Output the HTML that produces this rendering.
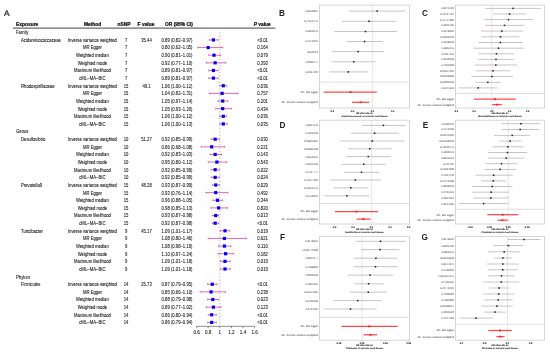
<!DOCTYPE html>
<html><head><meta charset="utf-8"><title>MR forest plots</title>
<style>
html,body{margin:0;padding:0;background:#fff;}
body{width:550px;height:353px;overflow:hidden;}
svg{display:block;font-family:"Liberation Sans", Arial, Helvetica, sans-serif;}
</style></head>
<body>
<svg width="550" height="353" viewBox="0 0 550 353">
<rect width="550" height="353" fill="#fff"/>
<text x="4.00" y="15.90" font-size="8.4" text-anchor="start" font-weight="normal" fill="#111" style="text-rendering:geometricPrecision" stroke="#111" stroke-width="0.2">A</text>
<text x="16.00" y="25.80" font-size="4.9" text-anchor="start" font-weight="bold" fill="#111" stroke="#111" stroke-width="0.22">Exposure</text>
<text x="92.60" y="25.80" font-size="4.9" text-anchor="middle" font-weight="bold" fill="#111" stroke="#111" stroke-width="0.22">Method</text>
<text x="124.00" y="25.80" font-size="4.9" text-anchor="middle" font-weight="bold" fill="#111" stroke="#111" stroke-width="0.22">nSNP</text>
<text x="146.00" y="25.80" font-size="4.9" text-anchor="middle" font-weight="bold" fill="#111" stroke="#111" stroke-width="0.22">F value</text>
<text x="179.00" y="25.80" font-size="4.9" text-anchor="middle" font-weight="bold" fill="#111" stroke="#111" stroke-width="0.22">OR (95% CI)</text>
<text x="262.2" y="25.8" font-size="4.9" text-anchor="middle" font-weight="bold" fill="#111" stroke="#111" stroke-width="0.22"><tspan font-style="italic">P</tspan> value</text>
<line x1="13.00" y1="28.10" x2="275.50" y2="28.10" stroke="#6a6a6a" stroke-width="1.1"/>
<line x1="219.80" y1="32.20" x2="219.80" y2="326.00" stroke="#999" stroke-width="0.7" stroke-dasharray="1.3,2.0"/>
<text transform="translate(16.00,34.20) scale(0.92,1)" font-size="4.6" text-anchor="start" font-weight="normal" fill="#111" stroke="#111" stroke-width="0.07">Family</text>
<text transform="translate(21.00,41.84) scale(0.92,1)" font-size="4.6" text-anchor="start" font-weight="normal" fill="#111" stroke="#111" stroke-width="0.07">Acidaminococcaceae</text>
<text transform="translate(146.50,41.84) scale(0.92,1)" font-size="4.6" text-anchor="middle" font-weight="normal" fill="#111" stroke="#111" stroke-width="0.07">35.44</text>
<text transform="translate(92.40,41.84) scale(0.92,1)" font-size="4.6" text-anchor="middle" font-weight="normal" fill="#111" stroke="#111" stroke-width="0.07">Inverse variance weighted</text>
<text transform="translate(126.10,41.84) scale(0.92,1)" font-size="4.6" text-anchor="middle" font-weight="normal" fill="#111" stroke="#111" stroke-width="0.07">7</text>
<text transform="translate(177.00,41.84) scale(0.92,1)" font-size="4.6" text-anchor="middle" font-weight="normal" fill="#111" stroke="#111" stroke-width="0.07">0.89 (0.82–0.97)</text>
<text transform="translate(262.60,41.84) scale(0.92,1)" font-size="4.6" text-anchor="middle" font-weight="normal" fill="#111" stroke="#111" stroke-width="0.07">&lt;0.01</text>
<line x1="209.36" y1="39.93" x2="218.06" y2="39.93" stroke="#e34ba6" stroke-width="0.85"/>
<line x1="209.36" y1="39.03" x2="209.36" y2="40.83" stroke="#c0307f" stroke-width="0.6"/>
<line x1="218.06" y1="39.03" x2="218.06" y2="40.83" stroke="#c0307f" stroke-width="0.6"/>
<rect x="211.82" y="38.33" width="3.20" height="3.20" fill="#0000ff"/>
<text transform="translate(92.40,49.47) scale(0.92,1)" font-size="4.6" text-anchor="middle" font-weight="normal" fill="#111" stroke="#111" stroke-width="0.07">MR Egger</text>
<text transform="translate(126.10,49.47) scale(0.92,1)" font-size="4.6" text-anchor="middle" font-weight="normal" fill="#111" stroke="#111" stroke-width="0.07">7</text>
<text transform="translate(177.00,49.47) scale(0.92,1)" font-size="4.6" text-anchor="middle" font-weight="normal" fill="#111" stroke="#111" stroke-width="0.07">0.80 (0.62–1.05)</text>
<text transform="translate(262.60,49.47) scale(0.92,1)" font-size="4.6" text-anchor="middle" font-weight="normal" fill="#111" stroke="#111" stroke-width="0.07">0.164</text>
<line x1="197.76" y1="47.57" x2="222.70" y2="47.57" stroke="#e34ba6" stroke-width="0.85"/>
<line x1="197.76" y1="46.67" x2="197.76" y2="48.47" stroke="#c0307f" stroke-width="0.6"/>
<line x1="222.70" y1="46.67" x2="222.70" y2="48.47" stroke="#c0307f" stroke-width="0.6"/>
<rect x="206.60" y="45.97" width="3.20" height="3.20" fill="#0000ff"/>
<text transform="translate(92.40,57.11) scale(0.92,1)" font-size="4.6" text-anchor="middle" font-weight="normal" fill="#111" stroke="#111" stroke-width="0.07">Weighted median</text>
<text transform="translate(126.10,57.11) scale(0.92,1)" font-size="4.6" text-anchor="middle" font-weight="normal" fill="#111" stroke="#111" stroke-width="0.07">7</text>
<text transform="translate(177.00,57.11) scale(0.92,1)" font-size="4.6" text-anchor="middle" font-weight="normal" fill="#111" stroke="#111" stroke-width="0.07">0.90 (0.81–1.01)</text>
<text transform="translate(262.60,57.11) scale(0.92,1)" font-size="4.6" text-anchor="middle" font-weight="normal" fill="#111" stroke="#111" stroke-width="0.07">0.079</text>
<line x1="208.78" y1="55.20" x2="220.38" y2="55.20" stroke="#e34ba6" stroke-width="0.85"/>
<line x1="208.78" y1="54.30" x2="208.78" y2="56.10" stroke="#c0307f" stroke-width="0.6"/>
<line x1="220.38" y1="54.30" x2="220.38" y2="56.10" stroke="#c0307f" stroke-width="0.6"/>
<rect x="212.40" y="53.60" width="3.20" height="3.20" fill="#0000ff"/>
<text transform="translate(92.40,64.74) scale(0.92,1)" font-size="4.6" text-anchor="middle" font-weight="normal" fill="#111" stroke="#111" stroke-width="0.07">Weighted mode</text>
<text transform="translate(126.10,64.74) scale(0.92,1)" font-size="4.6" text-anchor="middle" font-weight="normal" fill="#111" stroke="#111" stroke-width="0.07">7</text>
<text transform="translate(177.00,64.74) scale(0.92,1)" font-size="4.6" text-anchor="middle" font-weight="normal" fill="#111" stroke="#111" stroke-width="0.07">0.92 (0.77–1.10)</text>
<text transform="translate(262.60,64.74) scale(0.92,1)" font-size="4.6" text-anchor="middle" font-weight="normal" fill="#111" stroke="#111" stroke-width="0.07">0.393</text>
<line x1="206.46" y1="62.84" x2="225.60" y2="62.84" stroke="#e34ba6" stroke-width="0.85"/>
<line x1="206.46" y1="61.94" x2="206.46" y2="63.74" stroke="#c0307f" stroke-width="0.6"/>
<line x1="225.60" y1="61.94" x2="225.60" y2="63.74" stroke="#c0307f" stroke-width="0.6"/>
<rect x="213.56" y="61.24" width="3.20" height="3.20" fill="#0000ff"/>
<text transform="translate(92.40,72.38) scale(0.92,1)" font-size="4.6" text-anchor="middle" font-weight="normal" fill="#111" stroke="#111" stroke-width="0.07">Maximum likelihood</text>
<text transform="translate(126.10,72.38) scale(0.92,1)" font-size="4.6" text-anchor="middle" font-weight="normal" fill="#111" stroke="#111" stroke-width="0.07">7</text>
<text transform="translate(177.00,72.38) scale(0.92,1)" font-size="4.6" text-anchor="middle" font-weight="normal" fill="#111" stroke="#111" stroke-width="0.07">0.89 (0.81–0.97)</text>
<text transform="translate(262.60,72.38) scale(0.92,1)" font-size="4.6" text-anchor="middle" font-weight="normal" fill="#111" stroke="#111" stroke-width="0.07">&lt;0.01</text>
<line x1="208.78" y1="70.47" x2="218.06" y2="70.47" stroke="#e34ba6" stroke-width="0.85"/>
<line x1="208.78" y1="69.57" x2="208.78" y2="71.38" stroke="#c0307f" stroke-width="0.6"/>
<line x1="218.06" y1="69.57" x2="218.06" y2="71.38" stroke="#c0307f" stroke-width="0.6"/>
<rect x="211.82" y="68.88" width="3.20" height="3.20" fill="#0000ff"/>
<text transform="translate(92.40,80.01) scale(0.92,1)" font-size="4.6" text-anchor="middle" font-weight="normal" fill="#111" stroke="#111" stroke-width="0.07">cML−MA−BIC</text>
<text transform="translate(126.10,80.01) scale(0.92,1)" font-size="4.6" text-anchor="middle" font-weight="normal" fill="#111" stroke="#111" stroke-width="0.07">7</text>
<text transform="translate(177.00,80.01) scale(0.92,1)" font-size="4.6" text-anchor="middle" font-weight="normal" fill="#111" stroke="#111" stroke-width="0.07">0.89 (0.81–0.97)</text>
<text transform="translate(262.60,80.01) scale(0.92,1)" font-size="4.6" text-anchor="middle" font-weight="normal" fill="#111" stroke="#111" stroke-width="0.07">&lt;0.01</text>
<line x1="208.78" y1="78.11" x2="218.06" y2="78.11" stroke="#e34ba6" stroke-width="0.85"/>
<line x1="208.78" y1="77.21" x2="208.78" y2="79.01" stroke="#c0307f" stroke-width="0.6"/>
<line x1="218.06" y1="77.21" x2="218.06" y2="79.01" stroke="#c0307f" stroke-width="0.6"/>
<rect x="211.82" y="76.51" width="3.20" height="3.20" fill="#0000ff"/>
<text transform="translate(21.00,87.65) scale(0.92,1)" font-size="4.6" text-anchor="start" font-weight="normal" fill="#111" stroke="#111" stroke-width="0.07">Rhodospirillaceae</text>
<text transform="translate(146.50,87.65) scale(0.92,1)" font-size="4.6" text-anchor="middle" font-weight="normal" fill="#111" stroke="#111" stroke-width="0.07">49.1</text>
<text transform="translate(92.40,87.65) scale(0.92,1)" font-size="4.6" text-anchor="middle" font-weight="normal" fill="#111" stroke="#111" stroke-width="0.07">Inverse variance weighted</text>
<text transform="translate(126.10,87.65) scale(0.92,1)" font-size="4.6" text-anchor="middle" font-weight="normal" fill="#111" stroke="#111" stroke-width="0.07">15</text>
<text transform="translate(177.00,87.65) scale(0.92,1)" font-size="4.6" text-anchor="middle" font-weight="normal" fill="#111" stroke="#111" stroke-width="0.07">1.06 (1.00–1.12)</text>
<text transform="translate(262.60,87.65) scale(0.92,1)" font-size="4.6" text-anchor="middle" font-weight="normal" fill="#111" stroke="#111" stroke-width="0.07">0.036</text>
<line x1="219.80" y1="85.75" x2="226.76" y2="85.75" stroke="#e34ba6" stroke-width="0.85"/>
<line x1="219.80" y1="84.84" x2="219.80" y2="86.65" stroke="#c0307f" stroke-width="0.6"/>
<line x1="226.76" y1="84.84" x2="226.76" y2="86.65" stroke="#c0307f" stroke-width="0.6"/>
<rect x="221.68" y="84.15" width="3.20" height="3.20" fill="#0000ff"/>
<text transform="translate(92.40,95.28) scale(0.92,1)" font-size="4.6" text-anchor="middle" font-weight="normal" fill="#111" stroke="#111" stroke-width="0.07">MR Egger</text>
<text transform="translate(126.10,95.28) scale(0.92,1)" font-size="4.6" text-anchor="middle" font-weight="normal" fill="#111" stroke="#111" stroke-width="0.07">15</text>
<text transform="translate(177.00,95.28) scale(0.92,1)" font-size="4.6" text-anchor="middle" font-weight="normal" fill="#111" stroke="#111" stroke-width="0.07">1.04 (0.82–1.31)</text>
<text transform="translate(262.60,95.28) scale(0.92,1)" font-size="4.6" text-anchor="middle" font-weight="normal" fill="#111" stroke="#111" stroke-width="0.07">0.757</text>
<line x1="209.36" y1="93.38" x2="237.78" y2="93.38" stroke="#e34ba6" stroke-width="0.85"/>
<line x1="209.36" y1="92.48" x2="209.36" y2="94.28" stroke="#c0307f" stroke-width="0.6"/>
<line x1="237.78" y1="92.48" x2="237.78" y2="94.28" stroke="#c0307f" stroke-width="0.6"/>
<rect x="220.52" y="91.78" width="3.20" height="3.20" fill="#0000ff"/>
<text transform="translate(92.40,102.92) scale(0.92,1)" font-size="4.6" text-anchor="middle" font-weight="normal" fill="#111" stroke="#111" stroke-width="0.07">Weighted median</text>
<text transform="translate(126.10,102.92) scale(0.92,1)" font-size="4.6" text-anchor="middle" font-weight="normal" fill="#111" stroke="#111" stroke-width="0.07">15</text>
<text transform="translate(177.00,102.92) scale(0.92,1)" font-size="4.6" text-anchor="middle" font-weight="normal" fill="#111" stroke="#111" stroke-width="0.07">1.05 (0.97–1.14)</text>
<text transform="translate(262.60,102.92) scale(0.92,1)" font-size="4.6" text-anchor="middle" font-weight="normal" fill="#111" stroke="#111" stroke-width="0.07">0.201</text>
<line x1="218.06" y1="101.02" x2="227.92" y2="101.02" stroke="#e34ba6" stroke-width="0.85"/>
<line x1="218.06" y1="100.11" x2="218.06" y2="101.92" stroke="#c0307f" stroke-width="0.6"/>
<line x1="227.92" y1="100.11" x2="227.92" y2="101.92" stroke="#c0307f" stroke-width="0.6"/>
<rect x="221.10" y="99.42" width="3.20" height="3.20" fill="#0000ff"/>
<text transform="translate(92.40,110.55) scale(0.92,1)" font-size="4.6" text-anchor="middle" font-weight="normal" fill="#111" stroke="#111" stroke-width="0.07">Weighted mode</text>
<text transform="translate(126.10,110.55) scale(0.92,1)" font-size="4.6" text-anchor="middle" font-weight="normal" fill="#111" stroke="#111" stroke-width="0.07">15</text>
<text transform="translate(177.00,110.55) scale(0.92,1)" font-size="4.6" text-anchor="middle" font-weight="normal" fill="#111" stroke="#111" stroke-width="0.07">1.05 (0.93–1.20)</text>
<text transform="translate(262.60,110.55) scale(0.92,1)" font-size="4.6" text-anchor="middle" font-weight="normal" fill="#111" stroke="#111" stroke-width="0.07">0.434</text>
<line x1="215.74" y1="108.65" x2="231.40" y2="108.65" stroke="#e34ba6" stroke-width="0.85"/>
<line x1="215.74" y1="107.75" x2="215.74" y2="109.55" stroke="#c0307f" stroke-width="0.6"/>
<line x1="231.40" y1="107.75" x2="231.40" y2="109.55" stroke="#c0307f" stroke-width="0.6"/>
<rect x="221.10" y="107.05" width="3.20" height="3.20" fill="#0000ff"/>
<text transform="translate(92.40,118.19) scale(0.92,1)" font-size="4.6" text-anchor="middle" font-weight="normal" fill="#111" stroke="#111" stroke-width="0.07">Maximum likelihood</text>
<text transform="translate(126.10,118.19) scale(0.92,1)" font-size="4.6" text-anchor="middle" font-weight="normal" fill="#111" stroke="#111" stroke-width="0.07">15</text>
<text transform="translate(177.00,118.19) scale(0.92,1)" font-size="4.6" text-anchor="middle" font-weight="normal" fill="#111" stroke="#111" stroke-width="0.07">1.06 (1.00–1.12)</text>
<text transform="translate(262.60,118.19) scale(0.92,1)" font-size="4.6" text-anchor="middle" font-weight="normal" fill="#111" stroke="#111" stroke-width="0.07">0.036</text>
<line x1="219.80" y1="116.28" x2="226.76" y2="116.28" stroke="#e34ba6" stroke-width="0.85"/>
<line x1="219.80" y1="115.38" x2="219.80" y2="117.19" stroke="#c0307f" stroke-width="0.6"/>
<line x1="226.76" y1="115.38" x2="226.76" y2="117.19" stroke="#c0307f" stroke-width="0.6"/>
<rect x="221.68" y="114.69" width="3.20" height="3.20" fill="#0000ff"/>
<text transform="translate(92.40,125.82) scale(0.92,1)" font-size="4.6" text-anchor="middle" font-weight="normal" fill="#111" stroke="#111" stroke-width="0.07">cML−MA−BIC</text>
<text transform="translate(126.10,125.82) scale(0.92,1)" font-size="4.6" text-anchor="middle" font-weight="normal" fill="#111" stroke="#111" stroke-width="0.07">15</text>
<text transform="translate(177.00,125.82) scale(0.92,1)" font-size="4.6" text-anchor="middle" font-weight="normal" fill="#111" stroke="#111" stroke-width="0.07">1.06 (1.00–1.13)</text>
<text transform="translate(262.60,125.82) scale(0.92,1)" font-size="4.6" text-anchor="middle" font-weight="normal" fill="#111" stroke="#111" stroke-width="0.07">0.035</text>
<line x1="219.80" y1="123.92" x2="227.34" y2="123.92" stroke="#e34ba6" stroke-width="0.85"/>
<line x1="219.80" y1="123.02" x2="219.80" y2="124.82" stroke="#c0307f" stroke-width="0.6"/>
<line x1="227.34" y1="123.02" x2="227.34" y2="124.82" stroke="#c0307f" stroke-width="0.6"/>
<rect x="221.68" y="122.32" width="3.20" height="3.20" fill="#0000ff"/>
<text transform="translate(16.00,133.45) scale(0.92,1)" font-size="4.6" text-anchor="start" font-weight="normal" fill="#111" stroke="#111" stroke-width="0.07">Genus</text>
<text transform="translate(21.00,141.09) scale(0.92,1)" font-size="4.6" text-anchor="start" font-weight="normal" fill="#111" stroke="#111" stroke-width="0.07">Desulfovibrio</text>
<text transform="translate(146.50,141.09) scale(0.92,1)" font-size="4.6" text-anchor="middle" font-weight="normal" fill="#111" stroke="#111" stroke-width="0.07">51.27</text>
<text transform="translate(92.40,141.09) scale(0.92,1)" font-size="4.6" text-anchor="middle" font-weight="normal" fill="#111" stroke="#111" stroke-width="0.07">Inverse variance weighted</text>
<text transform="translate(126.10,141.09) scale(0.92,1)" font-size="4.6" text-anchor="middle" font-weight="normal" fill="#111" stroke="#111" stroke-width="0.07">10</text>
<text transform="translate(177.00,141.09) scale(0.92,1)" font-size="4.6" text-anchor="middle" font-weight="normal" fill="#111" stroke="#111" stroke-width="0.07">0.92 (0.85–0.99)</text>
<text transform="translate(262.60,141.09) scale(0.92,1)" font-size="4.6" text-anchor="middle" font-weight="normal" fill="#111" stroke="#111" stroke-width="0.07">0.030</text>
<line x1="211.10" y1="139.19" x2="219.22" y2="139.19" stroke="#e34ba6" stroke-width="0.85"/>
<line x1="211.10" y1="138.29" x2="211.10" y2="140.09" stroke="#c0307f" stroke-width="0.6"/>
<line x1="219.22" y1="138.29" x2="219.22" y2="140.09" stroke="#c0307f" stroke-width="0.6"/>
<rect x="213.56" y="137.59" width="3.20" height="3.20" fill="#0000ff"/>
<text transform="translate(92.40,148.72) scale(0.92,1)" font-size="4.6" text-anchor="middle" font-weight="normal" fill="#111" stroke="#111" stroke-width="0.07">MR Egger</text>
<text transform="translate(126.10,148.72) scale(0.92,1)" font-size="4.6" text-anchor="middle" font-weight="normal" fill="#111" stroke="#111" stroke-width="0.07">10</text>
<text transform="translate(177.00,148.72) scale(0.92,1)" font-size="4.6" text-anchor="middle" font-weight="normal" fill="#111" stroke="#111" stroke-width="0.07">0.86 (0.68–1.08)</text>
<text transform="translate(262.60,148.72) scale(0.92,1)" font-size="4.6" text-anchor="middle" font-weight="normal" fill="#111" stroke="#111" stroke-width="0.07">0.221</text>
<line x1="201.24" y1="146.82" x2="224.44" y2="146.82" stroke="#e34ba6" stroke-width="0.85"/>
<line x1="201.24" y1="145.92" x2="201.24" y2="147.72" stroke="#c0307f" stroke-width="0.6"/>
<line x1="224.44" y1="145.92" x2="224.44" y2="147.72" stroke="#c0307f" stroke-width="0.6"/>
<rect x="210.08" y="145.22" width="3.20" height="3.20" fill="#0000ff"/>
<text transform="translate(92.40,156.36) scale(0.92,1)" font-size="4.6" text-anchor="middle" font-weight="normal" fill="#111" stroke="#111" stroke-width="0.07">Weighted median</text>
<text transform="translate(126.10,156.36) scale(0.92,1)" font-size="4.6" text-anchor="middle" font-weight="normal" fill="#111" stroke="#111" stroke-width="0.07">10</text>
<text transform="translate(177.00,156.36) scale(0.92,1)" font-size="4.6" text-anchor="middle" font-weight="normal" fill="#111" stroke="#111" stroke-width="0.07">0.92 (0.83–1.03)</text>
<text transform="translate(262.60,156.36) scale(0.92,1)" font-size="4.6" text-anchor="middle" font-weight="normal" fill="#111" stroke="#111" stroke-width="0.07">0.143</text>
<line x1="209.94" y1="154.46" x2="221.54" y2="154.46" stroke="#e34ba6" stroke-width="0.85"/>
<line x1="209.94" y1="153.56" x2="209.94" y2="155.36" stroke="#c0307f" stroke-width="0.6"/>
<line x1="221.54" y1="153.56" x2="221.54" y2="155.36" stroke="#c0307f" stroke-width="0.6"/>
<rect x="213.56" y="152.86" width="3.20" height="3.20" fill="#0000ff"/>
<text transform="translate(92.40,164.00) scale(0.92,1)" font-size="4.6" text-anchor="middle" font-weight="normal" fill="#111" stroke="#111" stroke-width="0.07">Weighted mode</text>
<text transform="translate(126.10,164.00) scale(0.92,1)" font-size="4.6" text-anchor="middle" font-weight="normal" fill="#111" stroke="#111" stroke-width="0.07">10</text>
<text transform="translate(177.00,164.00) scale(0.92,1)" font-size="4.6" text-anchor="middle" font-weight="normal" fill="#111" stroke="#111" stroke-width="0.07">0.95 (0.80–1.12)</text>
<text transform="translate(262.60,164.00) scale(0.92,1)" font-size="4.6" text-anchor="middle" font-weight="normal" fill="#111" stroke="#111" stroke-width="0.07">0.543</text>
<line x1="208.20" y1="162.09" x2="226.76" y2="162.09" stroke="#e34ba6" stroke-width="0.85"/>
<line x1="208.20" y1="161.19" x2="208.20" y2="162.99" stroke="#c0307f" stroke-width="0.6"/>
<line x1="226.76" y1="161.19" x2="226.76" y2="162.99" stroke="#c0307f" stroke-width="0.6"/>
<rect x="215.30" y="160.49" width="3.20" height="3.20" fill="#0000ff"/>
<text transform="translate(92.40,171.63) scale(0.92,1)" font-size="4.6" text-anchor="middle" font-weight="normal" fill="#111" stroke="#111" stroke-width="0.07">Maximum likelihood</text>
<text transform="translate(126.10,171.63) scale(0.92,1)" font-size="4.6" text-anchor="middle" font-weight="normal" fill="#111" stroke="#111" stroke-width="0.07">10</text>
<text transform="translate(177.00,171.63) scale(0.92,1)" font-size="4.6" text-anchor="middle" font-weight="normal" fill="#111" stroke="#111" stroke-width="0.07">0.92 (0.85–0.99)</text>
<text transform="translate(262.60,171.63) scale(0.92,1)" font-size="4.6" text-anchor="middle" font-weight="normal" fill="#111" stroke="#111" stroke-width="0.07">0.022</text>
<line x1="211.10" y1="169.73" x2="219.22" y2="169.73" stroke="#e34ba6" stroke-width="0.85"/>
<line x1="211.10" y1="168.83" x2="211.10" y2="170.63" stroke="#c0307f" stroke-width="0.6"/>
<line x1="219.22" y1="168.83" x2="219.22" y2="170.63" stroke="#c0307f" stroke-width="0.6"/>
<rect x="213.56" y="168.13" width="3.20" height="3.20" fill="#0000ff"/>
<text transform="translate(92.40,179.26) scale(0.92,1)" font-size="4.6" text-anchor="middle" font-weight="normal" fill="#111" stroke="#111" stroke-width="0.07">cML−MA−BIC</text>
<text transform="translate(126.10,179.26) scale(0.92,1)" font-size="4.6" text-anchor="middle" font-weight="normal" fill="#111" stroke="#111" stroke-width="0.07">10</text>
<text transform="translate(177.00,179.26) scale(0.92,1)" font-size="4.6" text-anchor="middle" font-weight="normal" fill="#111" stroke="#111" stroke-width="0.07">0.92 (0.85–0.99)</text>
<text transform="translate(262.60,179.26) scale(0.92,1)" font-size="4.6" text-anchor="middle" font-weight="normal" fill="#111" stroke="#111" stroke-width="0.07">0.024</text>
<line x1="211.10" y1="177.37" x2="219.22" y2="177.37" stroke="#e34ba6" stroke-width="0.85"/>
<line x1="211.10" y1="176.47" x2="211.10" y2="178.27" stroke="#c0307f" stroke-width="0.6"/>
<line x1="219.22" y1="176.47" x2="219.22" y2="178.27" stroke="#c0307f" stroke-width="0.6"/>
<rect x="213.56" y="175.77" width="3.20" height="3.20" fill="#0000ff"/>
<text transform="translate(21.00,186.90) scale(0.92,1)" font-size="4.6" text-anchor="start" font-weight="normal" fill="#111" stroke="#111" stroke-width="0.07">Prevotella9</text>
<text transform="translate(146.50,186.90) scale(0.92,1)" font-size="4.6" text-anchor="middle" font-weight="normal" fill="#111" stroke="#111" stroke-width="0.07">48.28</text>
<text transform="translate(92.40,186.90) scale(0.92,1)" font-size="4.6" text-anchor="middle" font-weight="normal" fill="#111" stroke="#111" stroke-width="0.07">Inverse variance weighted</text>
<text transform="translate(126.10,186.90) scale(0.92,1)" font-size="4.6" text-anchor="middle" font-weight="normal" fill="#111" stroke="#111" stroke-width="0.07">15</text>
<text transform="translate(177.00,186.90) scale(0.92,1)" font-size="4.6" text-anchor="middle" font-weight="normal" fill="#111" stroke="#111" stroke-width="0.07">0.93 (0.87–0.99)</text>
<text transform="translate(262.60,186.90) scale(0.92,1)" font-size="4.6" text-anchor="middle" font-weight="normal" fill="#111" stroke="#111" stroke-width="0.07">0.029</text>
<line x1="212.26" y1="185.00" x2="219.22" y2="185.00" stroke="#e34ba6" stroke-width="0.85"/>
<line x1="212.26" y1="184.10" x2="212.26" y2="185.90" stroke="#c0307f" stroke-width="0.6"/>
<line x1="219.22" y1="184.10" x2="219.22" y2="185.90" stroke="#c0307f" stroke-width="0.6"/>
<rect x="214.14" y="183.40" width="3.20" height="3.20" fill="#0000ff"/>
<text transform="translate(92.40,194.54) scale(0.92,1)" font-size="4.6" text-anchor="middle" font-weight="normal" fill="#111" stroke="#111" stroke-width="0.07">MR Egger</text>
<text transform="translate(126.10,194.54) scale(0.92,1)" font-size="4.6" text-anchor="middle" font-weight="normal" fill="#111" stroke="#111" stroke-width="0.07">15</text>
<text transform="translate(177.00,194.54) scale(0.92,1)" font-size="4.6" text-anchor="middle" font-weight="normal" fill="#111" stroke="#111" stroke-width="0.07">0.93 (0.76–1.14)</text>
<text transform="translate(262.60,194.54) scale(0.92,1)" font-size="4.6" text-anchor="middle" font-weight="normal" fill="#111" stroke="#111" stroke-width="0.07">0.492</text>
<line x1="205.88" y1="192.63" x2="227.92" y2="192.63" stroke="#e34ba6" stroke-width="0.85"/>
<line x1="205.88" y1="191.73" x2="205.88" y2="193.53" stroke="#c0307f" stroke-width="0.6"/>
<line x1="227.92" y1="191.73" x2="227.92" y2="193.53" stroke="#c0307f" stroke-width="0.6"/>
<rect x="214.14" y="191.03" width="3.20" height="3.20" fill="#0000ff"/>
<text transform="translate(92.40,202.17) scale(0.92,1)" font-size="4.6" text-anchor="middle" font-weight="normal" fill="#111" stroke="#111" stroke-width="0.07">Weighted median</text>
<text transform="translate(126.10,202.17) scale(0.92,1)" font-size="4.6" text-anchor="middle" font-weight="normal" fill="#111" stroke="#111" stroke-width="0.07">15</text>
<text transform="translate(177.00,202.17) scale(0.92,1)" font-size="4.6" text-anchor="middle" font-weight="normal" fill="#111" stroke="#111" stroke-width="0.07">0.96 (0.88–1.05)</text>
<text transform="translate(262.60,202.17) scale(0.92,1)" font-size="4.6" text-anchor="middle" font-weight="normal" fill="#111" stroke="#111" stroke-width="0.07">0.344</text>
<line x1="212.84" y1="200.27" x2="222.70" y2="200.27" stroke="#e34ba6" stroke-width="0.85"/>
<line x1="212.84" y1="199.37" x2="212.84" y2="201.17" stroke="#c0307f" stroke-width="0.6"/>
<line x1="222.70" y1="199.37" x2="222.70" y2="201.17" stroke="#c0307f" stroke-width="0.6"/>
<rect x="215.88" y="198.67" width="3.20" height="3.20" fill="#0000ff"/>
<text transform="translate(92.40,209.81) scale(0.92,1)" font-size="4.6" text-anchor="middle" font-weight="normal" fill="#111" stroke="#111" stroke-width="0.07">Weighted mode</text>
<text transform="translate(126.10,209.81) scale(0.92,1)" font-size="4.6" text-anchor="middle" font-weight="normal" fill="#111" stroke="#111" stroke-width="0.07">15</text>
<text transform="translate(177.00,209.81) scale(0.92,1)" font-size="4.6" text-anchor="middle" font-weight="normal" fill="#111" stroke="#111" stroke-width="0.07">0.98 (0.85–1.13)</text>
<text transform="translate(262.60,209.81) scale(0.92,1)" font-size="4.6" text-anchor="middle" font-weight="normal" fill="#111" stroke="#111" stroke-width="0.07">0.820</text>
<line x1="211.10" y1="207.90" x2="227.34" y2="207.90" stroke="#e34ba6" stroke-width="0.85"/>
<line x1="211.10" y1="207.00" x2="211.10" y2="208.80" stroke="#c0307f" stroke-width="0.6"/>
<line x1="227.34" y1="207.00" x2="227.34" y2="208.80" stroke="#c0307f" stroke-width="0.6"/>
<rect x="217.04" y="206.30" width="3.20" height="3.20" fill="#0000ff"/>
<text transform="translate(92.40,217.44) scale(0.92,1)" font-size="4.6" text-anchor="middle" font-weight="normal" fill="#111" stroke="#111" stroke-width="0.07">Maximum likelihood</text>
<text transform="translate(126.10,217.44) scale(0.92,1)" font-size="4.6" text-anchor="middle" font-weight="normal" fill="#111" stroke="#111" stroke-width="0.07">15</text>
<text transform="translate(177.00,217.44) scale(0.92,1)" font-size="4.6" text-anchor="middle" font-weight="normal" fill="#111" stroke="#111" stroke-width="0.07">0.93 (0.87–0.98)</text>
<text transform="translate(262.60,217.44) scale(0.92,1)" font-size="4.6" text-anchor="middle" font-weight="normal" fill="#111" stroke="#111" stroke-width="0.07">0.013</text>
<line x1="212.26" y1="215.54" x2="218.64" y2="215.54" stroke="#e34ba6" stroke-width="0.85"/>
<line x1="212.26" y1="214.64" x2="212.26" y2="216.44" stroke="#c0307f" stroke-width="0.6"/>
<line x1="218.64" y1="214.64" x2="218.64" y2="216.44" stroke="#c0307f" stroke-width="0.6"/>
<rect x="214.14" y="213.94" width="3.20" height="3.20" fill="#0000ff"/>
<text transform="translate(92.40,225.07) scale(0.92,1)" font-size="4.6" text-anchor="middle" font-weight="normal" fill="#111" stroke="#111" stroke-width="0.07">cML−MA−BIC</text>
<text transform="translate(126.10,225.07) scale(0.92,1)" font-size="4.6" text-anchor="middle" font-weight="normal" fill="#111" stroke="#111" stroke-width="0.07">15</text>
<text transform="translate(177.00,225.07) scale(0.92,1)" font-size="4.6" text-anchor="middle" font-weight="normal" fill="#111" stroke="#111" stroke-width="0.07">0.92 (0.87–0.98)</text>
<text transform="translate(262.60,225.07) scale(0.92,1)" font-size="4.6" text-anchor="middle" font-weight="normal" fill="#111" stroke="#111" stroke-width="0.07">&lt;0.01</text>
<line x1="212.26" y1="223.18" x2="218.64" y2="223.18" stroke="#e34ba6" stroke-width="0.85"/>
<line x1="212.26" y1="222.28" x2="212.26" y2="224.08" stroke="#c0307f" stroke-width="0.6"/>
<line x1="218.64" y1="222.28" x2="218.64" y2="224.08" stroke="#c0307f" stroke-width="0.6"/>
<rect x="213.56" y="221.58" width="3.20" height="3.20" fill="#0000ff"/>
<text transform="translate(21.00,232.71) scale(0.92,1)" font-size="4.6" text-anchor="start" font-weight="normal" fill="#111" stroke="#111" stroke-width="0.07">Turicibacter</text>
<text transform="translate(146.50,232.71) scale(0.92,1)" font-size="4.6" text-anchor="middle" font-weight="normal" fill="#111" stroke="#111" stroke-width="0.07">45.17</text>
<text transform="translate(92.40,232.71) scale(0.92,1)" font-size="4.6" text-anchor="middle" font-weight="normal" fill="#111" stroke="#111" stroke-width="0.07">Inverse variance weighted</text>
<text transform="translate(126.10,232.71) scale(0.92,1)" font-size="4.6" text-anchor="middle" font-weight="normal" fill="#111" stroke="#111" stroke-width="0.07">9</text>
<text transform="translate(177.00,232.71) scale(0.92,1)" font-size="4.6" text-anchor="middle" font-weight="normal" fill="#111" stroke="#111" stroke-width="0.07">1.09 (1.01–1.17)</text>
<text transform="translate(262.60,232.71) scale(0.92,1)" font-size="4.6" text-anchor="middle" font-weight="normal" fill="#111" stroke="#111" stroke-width="0.07">0.019</text>
<line x1="220.38" y1="230.81" x2="229.66" y2="230.81" stroke="#e34ba6" stroke-width="0.85"/>
<line x1="220.38" y1="229.91" x2="220.38" y2="231.71" stroke="#c0307f" stroke-width="0.6"/>
<line x1="229.66" y1="229.91" x2="229.66" y2="231.71" stroke="#c0307f" stroke-width="0.6"/>
<rect x="223.42" y="229.21" width="3.20" height="3.20" fill="#0000ff"/>
<text transform="translate(92.40,240.34) scale(0.92,1)" font-size="4.6" text-anchor="middle" font-weight="normal" fill="#111" stroke="#111" stroke-width="0.07">MR Egger</text>
<text transform="translate(126.10,240.34) scale(0.92,1)" font-size="4.6" text-anchor="middle" font-weight="normal" fill="#111" stroke="#111" stroke-width="0.07">9</text>
<text transform="translate(177.00,240.34) scale(0.92,1)" font-size="4.6" text-anchor="middle" font-weight="normal" fill="#111" stroke="#111" stroke-width="0.07">1.08 (0.80–1.46)</text>
<text transform="translate(262.60,240.34) scale(0.92,1)" font-size="4.6" text-anchor="middle" font-weight="normal" fill="#111" stroke="#111" stroke-width="0.07">0.621</text>
<line x1="208.20" y1="238.44" x2="246.48" y2="238.44" stroke="#e34ba6" stroke-width="0.85"/>
<line x1="208.20" y1="237.54" x2="208.20" y2="239.34" stroke="#c0307f" stroke-width="0.6"/>
<line x1="246.48" y1="237.54" x2="246.48" y2="239.34" stroke="#c0307f" stroke-width="0.6"/>
<rect x="222.84" y="236.84" width="3.20" height="3.20" fill="#0000ff"/>
<text transform="translate(92.40,247.98) scale(0.92,1)" font-size="4.6" text-anchor="middle" font-weight="normal" fill="#111" stroke="#111" stroke-width="0.07">Weighted median</text>
<text transform="translate(126.10,247.98) scale(0.92,1)" font-size="4.6" text-anchor="middle" font-weight="normal" fill="#111" stroke="#111" stroke-width="0.07">9</text>
<text transform="translate(177.00,247.98) scale(0.92,1)" font-size="4.6" text-anchor="middle" font-weight="normal" fill="#111" stroke="#111" stroke-width="0.07">1.08 (0.98–1.19)</text>
<text transform="translate(262.60,247.98) scale(0.92,1)" font-size="4.6" text-anchor="middle" font-weight="normal" fill="#111" stroke="#111" stroke-width="0.07">0.110</text>
<line x1="218.64" y1="246.08" x2="230.82" y2="246.08" stroke="#e34ba6" stroke-width="0.85"/>
<line x1="218.64" y1="245.18" x2="218.64" y2="246.98" stroke="#c0307f" stroke-width="0.6"/>
<line x1="230.82" y1="245.18" x2="230.82" y2="246.98" stroke="#c0307f" stroke-width="0.6"/>
<rect x="222.84" y="244.48" width="3.20" height="3.20" fill="#0000ff"/>
<text transform="translate(92.40,255.62) scale(0.92,1)" font-size="4.6" text-anchor="middle" font-weight="normal" fill="#111" stroke="#111" stroke-width="0.07">Weighted mode</text>
<text transform="translate(126.10,255.62) scale(0.92,1)" font-size="4.6" text-anchor="middle" font-weight="normal" fill="#111" stroke="#111" stroke-width="0.07">9</text>
<text transform="translate(177.00,255.62) scale(0.92,1)" font-size="4.6" text-anchor="middle" font-weight="normal" fill="#111" stroke="#111" stroke-width="0.07">1.10 (0.97–1.24)</text>
<text transform="translate(262.60,255.62) scale(0.92,1)" font-size="4.6" text-anchor="middle" font-weight="normal" fill="#111" stroke="#111" stroke-width="0.07">0.182</text>
<line x1="218.06" y1="253.71" x2="233.72" y2="253.71" stroke="#e34ba6" stroke-width="0.85"/>
<line x1="218.06" y1="252.81" x2="218.06" y2="254.61" stroke="#c0307f" stroke-width="0.6"/>
<line x1="233.72" y1="252.81" x2="233.72" y2="254.61" stroke="#c0307f" stroke-width="0.6"/>
<rect x="224.00" y="252.11" width="3.20" height="3.20" fill="#0000ff"/>
<text transform="translate(92.40,263.25) scale(0.92,1)" font-size="4.6" text-anchor="middle" font-weight="normal" fill="#111" stroke="#111" stroke-width="0.07">Maximum likelihood</text>
<text transform="translate(126.10,263.25) scale(0.92,1)" font-size="4.6" text-anchor="middle" font-weight="normal" fill="#111" stroke="#111" stroke-width="0.07">9</text>
<text transform="translate(177.00,263.25) scale(0.92,1)" font-size="4.6" text-anchor="middle" font-weight="normal" fill="#111" stroke="#111" stroke-width="0.07">1.09 (1.01–1.18)</text>
<text transform="translate(262.60,263.25) scale(0.92,1)" font-size="4.6" text-anchor="middle" font-weight="normal" fill="#111" stroke="#111" stroke-width="0.07">0.019</text>
<line x1="220.38" y1="261.35" x2="230.24" y2="261.35" stroke="#e34ba6" stroke-width="0.85"/>
<line x1="220.38" y1="260.45" x2="220.38" y2="262.25" stroke="#c0307f" stroke-width="0.6"/>
<line x1="230.24" y1="260.45" x2="230.24" y2="262.25" stroke="#c0307f" stroke-width="0.6"/>
<rect x="223.42" y="259.75" width="3.20" height="3.20" fill="#0000ff"/>
<text transform="translate(92.40,270.88) scale(0.92,1)" font-size="4.6" text-anchor="middle" font-weight="normal" fill="#111" stroke="#111" stroke-width="0.07">cML−MA−BIC</text>
<text transform="translate(126.10,270.88) scale(0.92,1)" font-size="4.6" text-anchor="middle" font-weight="normal" fill="#111" stroke="#111" stroke-width="0.07">9</text>
<text transform="translate(177.00,270.88) scale(0.92,1)" font-size="4.6" text-anchor="middle" font-weight="normal" fill="#111" stroke="#111" stroke-width="0.07">1.09 (1.01–1.18)</text>
<text transform="translate(262.60,270.88) scale(0.92,1)" font-size="4.6" text-anchor="middle" font-weight="normal" fill="#111" stroke="#111" stroke-width="0.07">0.019</text>
<line x1="220.38" y1="268.99" x2="230.24" y2="268.99" stroke="#e34ba6" stroke-width="0.85"/>
<line x1="220.38" y1="268.09" x2="220.38" y2="269.88" stroke="#c0307f" stroke-width="0.6"/>
<line x1="230.24" y1="268.09" x2="230.24" y2="269.88" stroke="#c0307f" stroke-width="0.6"/>
<rect x="223.42" y="267.38" width="3.20" height="3.20" fill="#0000ff"/>
<text transform="translate(16.00,278.52) scale(0.92,1)" font-size="4.6" text-anchor="start" font-weight="normal" fill="#111" stroke="#111" stroke-width="0.07">Phylum</text>
<text transform="translate(21.00,286.15) scale(0.92,1)" font-size="4.6" text-anchor="start" font-weight="normal" fill="#111" stroke="#111" stroke-width="0.07">Firmicutes</text>
<text transform="translate(146.50,286.15) scale(0.92,1)" font-size="4.6" text-anchor="middle" font-weight="normal" fill="#111" stroke="#111" stroke-width="0.07">25.73</text>
<text transform="translate(92.40,286.15) scale(0.92,1)" font-size="4.6" text-anchor="middle" font-weight="normal" fill="#111" stroke="#111" stroke-width="0.07">Inverse variance weighted</text>
<text transform="translate(126.10,286.15) scale(0.92,1)" font-size="4.6" text-anchor="middle" font-weight="normal" fill="#111" stroke="#111" stroke-width="0.07">14</text>
<text transform="translate(177.00,286.15) scale(0.92,1)" font-size="4.6" text-anchor="middle" font-weight="normal" fill="#111" stroke="#111" stroke-width="0.07">0.87 (0.79–0.95)</text>
<text transform="translate(262.60,286.15) scale(0.92,1)" font-size="4.6" text-anchor="middle" font-weight="normal" fill="#111" stroke="#111" stroke-width="0.07">&lt;0.01</text>
<line x1="207.62" y1="284.25" x2="216.90" y2="284.25" stroke="#e34ba6" stroke-width="0.85"/>
<line x1="207.62" y1="283.36" x2="207.62" y2="285.15" stroke="#c0307f" stroke-width="0.6"/>
<line x1="216.90" y1="283.36" x2="216.90" y2="285.15" stroke="#c0307f" stroke-width="0.6"/>
<rect x="210.66" y="282.65" width="3.20" height="3.20" fill="#0000ff"/>
<text transform="translate(92.40,293.79) scale(0.92,1)" font-size="4.6" text-anchor="middle" font-weight="normal" fill="#111" stroke="#111" stroke-width="0.07">MR Egger</text>
<text transform="translate(126.10,293.79) scale(0.92,1)" font-size="4.6" text-anchor="middle" font-weight="normal" fill="#111" stroke="#111" stroke-width="0.07">14</text>
<text transform="translate(177.00,293.79) scale(0.92,1)" font-size="4.6" text-anchor="middle" font-weight="normal" fill="#111" stroke="#111" stroke-width="0.07">0.85 (0.66–1.10)</text>
<text transform="translate(262.60,293.79) scale(0.92,1)" font-size="4.6" text-anchor="middle" font-weight="normal" fill="#111" stroke="#111" stroke-width="0.07">0.238</text>
<line x1="200.08" y1="291.89" x2="225.60" y2="291.89" stroke="#e34ba6" stroke-width="0.85"/>
<line x1="200.08" y1="290.99" x2="200.08" y2="292.79" stroke="#c0307f" stroke-width="0.6"/>
<line x1="225.60" y1="290.99" x2="225.60" y2="292.79" stroke="#c0307f" stroke-width="0.6"/>
<rect x="209.50" y="290.29" width="3.20" height="3.20" fill="#0000ff"/>
<text transform="translate(92.40,301.42) scale(0.92,1)" font-size="4.6" text-anchor="middle" font-weight="normal" fill="#111" stroke="#111" stroke-width="0.07">Weighted median</text>
<text transform="translate(126.10,301.42) scale(0.92,1)" font-size="4.6" text-anchor="middle" font-weight="normal" fill="#111" stroke="#111" stroke-width="0.07">14</text>
<text transform="translate(177.00,301.42) scale(0.92,1)" font-size="4.6" text-anchor="middle" font-weight="normal" fill="#111" stroke="#111" stroke-width="0.07">0.88 (0.79–0.98)</text>
<text transform="translate(262.60,301.42) scale(0.92,1)" font-size="4.6" text-anchor="middle" font-weight="normal" fill="#111" stroke="#111" stroke-width="0.07">0.023</text>
<line x1="207.62" y1="299.52" x2="218.64" y2="299.52" stroke="#e34ba6" stroke-width="0.85"/>
<line x1="207.62" y1="298.62" x2="207.62" y2="300.42" stroke="#c0307f" stroke-width="0.6"/>
<line x1="218.64" y1="298.62" x2="218.64" y2="300.42" stroke="#c0307f" stroke-width="0.6"/>
<rect x="211.24" y="297.92" width="3.20" height="3.20" fill="#0000ff"/>
<text transform="translate(92.40,309.06) scale(0.92,1)" font-size="4.6" text-anchor="middle" font-weight="normal" fill="#111" stroke="#111" stroke-width="0.07">Weighted mode</text>
<text transform="translate(126.10,309.06) scale(0.92,1)" font-size="4.6" text-anchor="middle" font-weight="normal" fill="#111" stroke="#111" stroke-width="0.07">14</text>
<text transform="translate(177.00,309.06) scale(0.92,1)" font-size="4.6" text-anchor="middle" font-weight="normal" fill="#111" stroke="#111" stroke-width="0.07">0.89 (0.77–1.02)</text>
<text transform="translate(262.60,309.06) scale(0.92,1)" font-size="4.6" text-anchor="middle" font-weight="normal" fill="#111" stroke="#111" stroke-width="0.07">0.123</text>
<line x1="206.46" y1="307.16" x2="220.96" y2="307.16" stroke="#e34ba6" stroke-width="0.85"/>
<line x1="206.46" y1="306.26" x2="206.46" y2="308.06" stroke="#c0307f" stroke-width="0.6"/>
<line x1="220.96" y1="306.26" x2="220.96" y2="308.06" stroke="#c0307f" stroke-width="0.6"/>
<rect x="211.82" y="305.56" width="3.20" height="3.20" fill="#0000ff"/>
<text transform="translate(92.40,316.69) scale(0.92,1)" font-size="4.6" text-anchor="middle" font-weight="normal" fill="#111" stroke="#111" stroke-width="0.07">Maximum likelihood</text>
<text transform="translate(126.10,316.69) scale(0.92,1)" font-size="4.6" text-anchor="middle" font-weight="normal" fill="#111" stroke="#111" stroke-width="0.07">14</text>
<text transform="translate(177.00,316.69) scale(0.92,1)" font-size="4.6" text-anchor="middle" font-weight="normal" fill="#111" stroke="#111" stroke-width="0.07">0.86 (0.80–0.94)</text>
<text transform="translate(262.60,316.69) scale(0.92,1)" font-size="4.6" text-anchor="middle" font-weight="normal" fill="#111" stroke="#111" stroke-width="0.07">&lt;0.01</text>
<line x1="208.20" y1="314.80" x2="216.32" y2="314.80" stroke="#e34ba6" stroke-width="0.85"/>
<line x1="208.20" y1="313.90" x2="208.20" y2="315.69" stroke="#c0307f" stroke-width="0.6"/>
<line x1="216.32" y1="313.90" x2="216.32" y2="315.69" stroke="#c0307f" stroke-width="0.6"/>
<rect x="210.08" y="313.19" width="3.20" height="3.20" fill="#0000ff"/>
<text transform="translate(92.40,324.33) scale(0.92,1)" font-size="4.6" text-anchor="middle" font-weight="normal" fill="#111" stroke="#111" stroke-width="0.07">cML−MA−BIC</text>
<text transform="translate(126.10,324.33) scale(0.92,1)" font-size="4.6" text-anchor="middle" font-weight="normal" fill="#111" stroke="#111" stroke-width="0.07">14</text>
<text transform="translate(177.00,324.33) scale(0.92,1)" font-size="4.6" text-anchor="middle" font-weight="normal" fill="#111" stroke="#111" stroke-width="0.07">0.86 (0.79–0.94)</text>
<text transform="translate(262.60,324.33) scale(0.92,1)" font-size="4.6" text-anchor="middle" font-weight="normal" fill="#111" stroke="#111" stroke-width="0.07">&lt;0.01</text>
<line x1="207.62" y1="322.43" x2="216.32" y2="322.43" stroke="#e34ba6" stroke-width="0.85"/>
<line x1="207.62" y1="321.53" x2="207.62" y2="323.33" stroke="#c0307f" stroke-width="0.6"/>
<line x1="216.32" y1="321.53" x2="216.32" y2="323.33" stroke="#c0307f" stroke-width="0.6"/>
<rect x="210.08" y="320.83" width="3.20" height="3.20" fill="#0000ff"/>
<line x1="196.60" y1="326.30" x2="254.60" y2="326.30" stroke="#444" stroke-width="0.6"/>
<line x1="196.60" y1="326.30" x2="196.60" y2="328.20" stroke="#444" stroke-width="0.6"/>
<text x="196.60" y="333.70" font-size="4.6" text-anchor="middle" font-weight="normal" fill="#111" stroke="#111" stroke-width="0.07">0.6</text>
<line x1="208.20" y1="326.30" x2="208.20" y2="328.20" stroke="#444" stroke-width="0.6"/>
<text x="208.20" y="333.70" font-size="4.6" text-anchor="middle" font-weight="normal" fill="#111" stroke="#111" stroke-width="0.07">0.8</text>
<line x1="219.80" y1="326.30" x2="219.80" y2="328.20" stroke="#444" stroke-width="0.6"/>
<text x="219.80" y="333.70" font-size="4.6" text-anchor="middle" font-weight="normal" fill="#111" stroke="#111" stroke-width="0.07">1</text>
<line x1="231.40" y1="326.30" x2="231.40" y2="328.20" stroke="#444" stroke-width="0.6"/>
<text x="231.40" y="333.70" font-size="4.6" text-anchor="middle" font-weight="normal" fill="#111" stroke="#111" stroke-width="0.07">1.2</text>
<line x1="243.00" y1="326.30" x2="243.00" y2="328.20" stroke="#444" stroke-width="0.6"/>
<text x="243.00" y="333.70" font-size="4.6" text-anchor="middle" font-weight="normal" fill="#111" stroke="#111" stroke-width="0.07">1.4</text>
<line x1="254.60" y1="326.30" x2="254.60" y2="328.20" stroke="#444" stroke-width="0.6"/>
<text x="254.60" y="333.70" font-size="4.6" text-anchor="middle" font-weight="normal" fill="#111" stroke="#111" stroke-width="0.07">1.6</text>
<g style="text-rendering:geometricPrecision">
<text x="279.00" y="15.70" font-size="8.2" text-anchor="start" font-weight="bold" fill="#222" style="text-rendering:optimizeLegibility">B</text>
<rect x="319.50" y="5.10" width="90.00" height="102.90" fill="#ffffff" stroke="#cdcdcd" stroke-width="0.8"/>
<line x1="372.40" y1="5.50" x2="372.40" y2="107.60" stroke="#f29a9a" stroke-width="0.6" stroke-dasharray="0.6,0.6"/>
<line x1="319.50" y1="82.10" x2="409.50" y2="82.10" stroke="#c8c8c8" stroke-width="0.6"/>
<line x1="348.80" y1="11.10" x2="405.40" y2="11.10" stroke="#8c8c8c" stroke-width="0.5"/>
<rect x="376.45" y="10.35" width="1.50" height="1.50" fill="#1a1a1a"/>
<text x="318.10" y="12.05" font-size="2.7" text-anchor="end" font-weight="normal" fill="#555" stroke="#555" stroke-width="0.02">rs2568324</text>
<line x1="318.90" y1="11.10" x2="319.50" y2="11.10" stroke="#999" stroke-width="0.3"/>
<line x1="341.90" y1="21.30" x2="395.90" y2="21.30" stroke="#8c8c8c" stroke-width="0.5"/>
<rect x="368.25" y="20.55" width="1.50" height="1.50" fill="#1a1a1a"/>
<text x="318.10" y="22.25" font-size="2.7" text-anchor="end" font-weight="normal" fill="#555" stroke="#555" stroke-width="0.02">rs74540776</text>
<line x1="318.90" y1="21.30" x2="319.50" y2="21.30" stroke="#999" stroke-width="0.3"/>
<line x1="334.50" y1="31.50" x2="396.80" y2="31.50" stroke="#8c8c8c" stroke-width="0.5"/>
<rect x="364.75" y="30.75" width="1.50" height="1.50" fill="#1a1a1a"/>
<text x="318.10" y="32.45" font-size="2.7" text-anchor="end" font-weight="normal" fill="#555" stroke="#555" stroke-width="0.02">rs6603642</text>
<line x1="318.90" y1="31.50" x2="319.50" y2="31.50" stroke="#999" stroke-width="0.3"/>
<line x1="346.80" y1="41.50" x2="382.80" y2="41.50" stroke="#8c8c8c" stroke-width="0.5"/>
<rect x="363.85" y="40.75" width="1.50" height="1.50" fill="#1a1a1a"/>
<text x="318.10" y="42.45" font-size="2.7" text-anchor="end" font-weight="normal" fill="#555" stroke="#555" stroke-width="0.02">rs7670610</text>
<line x1="318.90" y1="41.50" x2="319.50" y2="41.50" stroke="#999" stroke-width="0.3"/>
<line x1="331.90" y1="51.60" x2="384.10" y2="51.60" stroke="#8c8c8c" stroke-width="0.5"/>
<rect x="357.35" y="50.85" width="1.50" height="1.50" fill="#1a1a1a"/>
<text x="318.10" y="52.55" font-size="2.7" text-anchor="end" font-weight="normal" fill="#555" stroke="#555" stroke-width="0.02">rs262613</text>
<line x1="318.90" y1="51.60" x2="319.50" y2="51.60" stroke="#999" stroke-width="0.3"/>
<line x1="331.90" y1="61.80" x2="375.50" y2="61.80" stroke="#8c8c8c" stroke-width="0.5"/>
<rect x="352.95" y="61.05" width="1.50" height="1.50" fill="#1a1a1a"/>
<text x="318.10" y="62.75" font-size="2.7" text-anchor="end" font-weight="normal" fill="#555" stroke="#555" stroke-width="0.02">rs2080447</text>
<line x1="318.90" y1="61.80" x2="319.50" y2="61.80" stroke="#999" stroke-width="0.3"/>
<line x1="329.20" y1="71.90" x2="367.70" y2="71.90" stroke="#8c8c8c" stroke-width="0.5"/>
<rect x="347.55" y="71.15" width="1.50" height="1.50" fill="#1a1a1a"/>
<text x="318.10" y="72.85" font-size="2.7" text-anchor="end" font-weight="normal" fill="#555" stroke="#555" stroke-width="0.02">rs2497602</text>
<line x1="318.90" y1="71.90" x2="319.50" y2="71.90" stroke="#999" stroke-width="0.3"/>
<line x1="323.70" y1="92.10" x2="376.80" y2="92.10" stroke="#ff4848" stroke-width="1.25"/>
<rect x="349.60" y="91.20" width="1.80" height="1.80" fill="#f01830"/>
<text x="318.10" y="93.05" font-size="2.7" text-anchor="end" font-weight="normal" fill="#444" stroke="#444" stroke-width="0.03">All - MR Egger</text>
<line x1="351.90" y1="102.30" x2="369.20" y2="102.30" stroke="#ff4848" stroke-width="1.25"/>
<rect x="359.60" y="101.40" width="1.80" height="1.80" fill="#f01830"/>
<text x="318.10" y="103.25" font-size="2.7" text-anchor="end" font-weight="normal" fill="#444" stroke="#444" stroke-width="0.03">All - Inverse variance weighted</text>
<line x1="332.10" y1="108.00" x2="332.10" y2="108.70" stroke="#777" stroke-width="0.4"/>
<text x="332.10" y="111.80" font-size="2.4" text-anchor="middle" font-weight="normal" fill="#222" stroke="#222" stroke-width="0.1">-0.4</text>
<line x1="352.30" y1="108.00" x2="352.30" y2="108.70" stroke="#777" stroke-width="0.4"/>
<text x="352.30" y="111.80" font-size="2.4" text-anchor="middle" font-weight="normal" fill="#222" stroke="#222" stroke-width="0.1">-0.2</text>
<line x1="372.50" y1="108.00" x2="372.50" y2="108.70" stroke="#777" stroke-width="0.4"/>
<text x="372.50" y="111.80" font-size="2.4" text-anchor="middle" font-weight="normal" fill="#222" stroke="#222" stroke-width="0.1">0.0</text>
<line x1="392.70" y1="108.00" x2="392.70" y2="108.70" stroke="#777" stroke-width="0.4"/>
<text x="392.70" y="111.80" font-size="2.4" text-anchor="middle" font-weight="normal" fill="#222" stroke="#222" stroke-width="0.1">0.2</text>
<text x="364.50" y="114.20" font-size="2.2" text-anchor="middle" font-weight="normal" fill="#111" stroke="#111" stroke-width="0.08">MR effect size for</text>
<text x="364.50" y="116.90" font-size="2.2" text-anchor="middle" font-weight="normal" fill="#111" stroke="#111" stroke-width="0.08">Acidaminococcaceae on Ischemic heart disease</text>
<text x="422.00" y="16.00" font-size="8.2" text-anchor="start" font-weight="bold" fill="#222" style="text-rendering:optimizeLegibility">C</text>
<rect x="455.50" y="5.10" width="89.00" height="102.90" fill="#ffffff" stroke="#cdcdcd" stroke-width="0.8"/>
<line x1="491.80" y1="5.50" x2="491.80" y2="107.60" stroke="#f29a9a" stroke-width="0.6" stroke-dasharray="0.6,0.6"/>
<line x1="455.50" y1="93.50" x2="544.50" y2="93.50" stroke="#c8c8c8" stroke-width="0.6"/>
<line x1="485.50" y1="8.40" x2="540.90" y2="8.40" stroke="#8c8c8c" stroke-width="0.5"/>
<rect x="512.35" y="7.65" width="1.50" height="1.50" fill="#1a1a1a"/>
<text x="454.10" y="9.35" font-size="2.7" text-anchor="end" font-weight="normal" fill="#555" stroke="#555" stroke-width="0.02">rs2276420</text>
<line x1="454.90" y1="8.40" x2="455.50" y2="8.40" stroke="#999" stroke-width="0.3"/>
<line x1="493.10" y1="14.00" x2="526.00" y2="14.00" stroke="#8c8c8c" stroke-width="0.5"/>
<rect x="508.75" y="13.25" width="1.50" height="1.50" fill="#1a1a1a"/>
<text x="454.10" y="14.95" font-size="2.7" text-anchor="end" font-weight="normal" fill="#555" stroke="#555" stroke-width="0.02">rs78784716</text>
<line x1="454.90" y1="14.00" x2="455.50" y2="14.00" stroke="#999" stroke-width="0.3"/>
<line x1="484.00" y1="19.60" x2="533.60" y2="19.60" stroke="#8c8c8c" stroke-width="0.5"/>
<rect x="507.75" y="18.85" width="1.50" height="1.50" fill="#1a1a1a"/>
<text x="454.10" y="20.55" font-size="2.7" text-anchor="end" font-weight="normal" fill="#555" stroke="#555" stroke-width="0.02">rs75714383</text>
<line x1="454.90" y1="19.60" x2="455.50" y2="19.60" stroke="#999" stroke-width="0.3"/>
<line x1="485.10" y1="25.40" x2="524.20" y2="25.40" stroke="#8c8c8c" stroke-width="0.5"/>
<rect x="503.75" y="24.65" width="1.50" height="1.50" fill="#1a1a1a"/>
<text x="454.10" y="26.35" font-size="2.7" text-anchor="end" font-weight="normal" fill="#555" stroke="#555" stroke-width="0.02">rs1026406</text>
<line x1="454.90" y1="25.40" x2="455.50" y2="25.40" stroke="#999" stroke-width="0.3"/>
<line x1="480.90" y1="31.10" x2="522.70" y2="31.10" stroke="#8c8c8c" stroke-width="0.5"/>
<rect x="501.05" y="30.35" width="1.50" height="1.50" fill="#1a1a1a"/>
<text x="454.10" y="32.05" font-size="2.7" text-anchor="end" font-weight="normal" fill="#555" stroke="#555" stroke-width="0.02">rs4879026</text>
<line x1="454.90" y1="31.10" x2="455.50" y2="31.10" stroke="#999" stroke-width="0.3"/>
<line x1="481.30" y1="36.80" x2="519.60" y2="36.80" stroke="#8c8c8c" stroke-width="0.5"/>
<rect x="499.75" y="36.05" width="1.50" height="1.50" fill="#1a1a1a"/>
<text x="454.10" y="37.75" font-size="2.7" text-anchor="end" font-weight="normal" fill="#555" stroke="#555" stroke-width="0.02">rs11601260</text>
<line x1="454.90" y1="36.80" x2="455.50" y2="36.80" stroke="#999" stroke-width="0.3"/>
<line x1="478.20" y1="42.50" x2="522.70" y2="42.50" stroke="#8c8c8c" stroke-width="0.5"/>
<rect x="499.65" y="41.75" width="1.50" height="1.50" fill="#1a1a1a"/>
<text x="454.10" y="43.45" font-size="2.7" text-anchor="end" font-weight="normal" fill="#555" stroke="#555" stroke-width="0.02">rs1049633</text>
<line x1="454.90" y1="42.50" x2="455.50" y2="42.50" stroke="#999" stroke-width="0.3"/>
<line x1="473.30" y1="48.20" x2="524.00" y2="48.20" stroke="#8c8c8c" stroke-width="0.5"/>
<rect x="497.75" y="47.45" width="1.50" height="1.50" fill="#1a1a1a"/>
<text x="454.10" y="49.15" font-size="2.7" text-anchor="end" font-weight="normal" fill="#555" stroke="#555" stroke-width="0.02">rs1925415</text>
<line x1="454.90" y1="48.20" x2="455.50" y2="48.20" stroke="#999" stroke-width="0.3"/>
<line x1="478.50" y1="53.80" x2="514.20" y2="53.80" stroke="#8c8c8c" stroke-width="0.5"/>
<rect x="495.65" y="53.05" width="1.50" height="1.50" fill="#1a1a1a"/>
<text x="454.10" y="54.75" font-size="2.7" text-anchor="end" font-weight="normal" fill="#555" stroke="#555" stroke-width="0.02">rs4067611</text>
<line x1="454.90" y1="53.80" x2="455.50" y2="53.80" stroke="#999" stroke-width="0.3"/>
<line x1="478.50" y1="59.40" x2="513.60" y2="59.40" stroke="#8c8c8c" stroke-width="0.5"/>
<rect x="495.25" y="58.65" width="1.50" height="1.50" fill="#1a1a1a"/>
<text x="454.10" y="60.35" font-size="2.7" text-anchor="end" font-weight="normal" fill="#555" stroke="#555" stroke-width="0.02">rs6613033</text>
<line x1="454.90" y1="59.40" x2="455.50" y2="59.40" stroke="#999" stroke-width="0.3"/>
<line x1="474.90" y1="65.00" x2="517.30" y2="65.00" stroke="#8c8c8c" stroke-width="0.5"/>
<rect x="495.05" y="64.25" width="1.50" height="1.50" fill="#1a1a1a"/>
<text x="454.10" y="65.95" font-size="2.7" text-anchor="end" font-weight="normal" fill="#555" stroke="#555" stroke-width="0.02">rs7601028</text>
<line x1="454.90" y1="65.00" x2="455.50" y2="65.00" stroke="#999" stroke-width="0.3"/>
<line x1="475.80" y1="70.80" x2="510.40" y2="70.80" stroke="#8c8c8c" stroke-width="0.5"/>
<rect x="492.35" y="70.05" width="1.50" height="1.50" fill="#1a1a1a"/>
<text x="454.10" y="71.75" font-size="2.7" text-anchor="end" font-weight="normal" fill="#555" stroke="#555" stroke-width="0.02">rs10654265</text>
<line x1="454.90" y1="70.80" x2="455.50" y2="70.80" stroke="#999" stroke-width="0.3"/>
<line x1="471.50" y1="76.50" x2="512.90" y2="76.50" stroke="#8c8c8c" stroke-width="0.5"/>
<rect x="491.05" y="75.75" width="1.50" height="1.50" fill="#1a1a1a"/>
<text x="454.10" y="77.45" font-size="2.7" text-anchor="end" font-weight="normal" fill="#555" stroke="#555" stroke-width="0.02">rs12269090</text>
<line x1="454.90" y1="76.50" x2="455.50" y2="76.50" stroke="#999" stroke-width="0.3"/>
<line x1="475.50" y1="82.30" x2="500.90" y2="82.30" stroke="#8c8c8c" stroke-width="0.5"/>
<rect x="487.05" y="81.55" width="1.50" height="1.50" fill="#1a1a1a"/>
<text x="454.10" y="83.25" font-size="2.7" text-anchor="end" font-weight="normal" fill="#555" stroke="#555" stroke-width="0.02">rs61803600</text>
<line x1="454.90" y1="82.30" x2="455.50" y2="82.30" stroke="#999" stroke-width="0.3"/>
<line x1="458.70" y1="87.90" x2="497.60" y2="87.90" stroke="#8c8c8c" stroke-width="0.5"/>
<rect x="477.45" y="87.15" width="1.50" height="1.50" fill="#1a1a1a"/>
<text x="454.10" y="88.85" font-size="2.7" text-anchor="end" font-weight="normal" fill="#555" stroke="#555" stroke-width="0.02">rs2764653</text>
<line x1="454.90" y1="87.90" x2="455.50" y2="87.90" stroke="#999" stroke-width="0.3"/>
<line x1="474.00" y1="99.20" x2="515.80" y2="99.20" stroke="#ff4848" stroke-width="1.25"/>
<rect x="494.10" y="98.30" width="1.80" height="1.80" fill="#f01830"/>
<text x="454.10" y="100.15" font-size="2.7" text-anchor="end" font-weight="normal" fill="#444" stroke="#444" stroke-width="0.03">All - MR Egger</text>
<line x1="492.20" y1="104.60" x2="501.80" y2="104.60" stroke="#ff4848" stroke-width="1.25"/>
<rect x="496.00" y="103.70" width="1.80" height="1.80" fill="#f01830"/>
<text x="454.10" y="105.55" font-size="2.7" text-anchor="end" font-weight="normal" fill="#444" stroke="#444" stroke-width="0.03">All - Inverse variance weighted</text>
<line x1="456.00" y1="108.00" x2="456.00" y2="108.70" stroke="#777" stroke-width="0.4"/>
<text x="456.00" y="111.80" font-size="2.4" text-anchor="middle" font-weight="normal" fill="#222" stroke="#222" stroke-width="0.1">-0.4</text>
<line x1="473.90" y1="108.00" x2="473.90" y2="108.70" stroke="#777" stroke-width="0.4"/>
<text x="473.90" y="111.80" font-size="2.4" text-anchor="middle" font-weight="normal" fill="#222" stroke="#222" stroke-width="0.1">-0.2</text>
<line x1="491.80" y1="108.00" x2="491.80" y2="108.70" stroke="#777" stroke-width="0.4"/>
<text x="491.80" y="111.80" font-size="2.4" text-anchor="middle" font-weight="normal" fill="#222" stroke="#222" stroke-width="0.1">0.0</text>
<line x1="509.70" y1="108.00" x2="509.70" y2="108.70" stroke="#777" stroke-width="0.4"/>
<text x="509.70" y="111.80" font-size="2.4" text-anchor="middle" font-weight="normal" fill="#222" stroke="#222" stroke-width="0.1">0.2</text>
<line x1="527.60" y1="108.00" x2="527.60" y2="108.70" stroke="#777" stroke-width="0.4"/>
<text x="527.60" y="111.80" font-size="2.4" text-anchor="middle" font-weight="normal" fill="#222" stroke="#222" stroke-width="0.1">0.4</text>
<text x="500.00" y="114.20" font-size="2.2" text-anchor="middle" font-weight="normal" fill="#111" stroke="#111" stroke-width="0.08">MR effect size for</text>
<text x="500.00" y="116.90" font-size="2.2" text-anchor="middle" font-weight="normal" fill="#111" stroke="#111" stroke-width="0.08">Rhodospirillaceae on Ischemic heart disease</text>
<text x="279.50" y="128.00" font-size="8.2" text-anchor="start" font-weight="bold" fill="#222" style="text-rendering:optimizeLegibility">D</text>
<rect x="319.50" y="120.20" width="90.00" height="103.80" fill="#ffffff" stroke="#cdcdcd" stroke-width="0.8"/>
<line x1="371.60" y1="120.60" x2="371.60" y2="223.60" stroke="#f29a9a" stroke-width="0.6" stroke-dasharray="0.6,0.6"/>
<line x1="319.50" y1="203.50" x2="409.50" y2="203.50" stroke="#c8c8c8" stroke-width="0.6"/>
<line x1="361.90" y1="125.40" x2="405.40" y2="125.40" stroke="#8c8c8c" stroke-width="0.5"/>
<rect x="382.65" y="124.65" width="1.50" height="1.50" fill="#1a1a1a"/>
<text x="318.10" y="126.35" font-size="2.7" text-anchor="end" font-weight="normal" fill="#555" stroke="#555" stroke-width="0.02">rs2504179</text>
<line x1="318.90" y1="125.40" x2="319.50" y2="125.40" stroke="#999" stroke-width="0.3"/>
<line x1="350.80" y1="133.20" x2="399.00" y2="133.20" stroke="#8c8c8c" stroke-width="0.5"/>
<rect x="373.85" y="132.45" width="1.50" height="1.50" fill="#1a1a1a"/>
<text x="318.10" y="134.15" font-size="2.7" text-anchor="end" font-weight="normal" fill="#555" stroke="#555" stroke-width="0.02">rs4060658</text>
<line x1="318.90" y1="133.20" x2="319.50" y2="133.20" stroke="#999" stroke-width="0.3"/>
<line x1="340.50" y1="141.00" x2="404.60" y2="141.00" stroke="#8c8c8c" stroke-width="0.5"/>
<rect x="371.55" y="140.25" width="1.50" height="1.50" fill="#1a1a1a"/>
<text x="318.10" y="141.95" font-size="2.7" text-anchor="end" font-weight="normal" fill="#555" stroke="#555" stroke-width="0.02">rs10865365</text>
<line x1="318.90" y1="141.00" x2="319.50" y2="141.00" stroke="#999" stroke-width="0.3"/>
<line x1="348.30" y1="148.80" x2="391.70" y2="148.80" stroke="#8c8c8c" stroke-width="0.5"/>
<rect x="368.95" y="148.05" width="1.50" height="1.50" fill="#1a1a1a"/>
<text x="318.10" y="149.75" font-size="2.7" text-anchor="end" font-weight="normal" fill="#555" stroke="#555" stroke-width="0.02">rs10395138</text>
<line x1="318.90" y1="148.80" x2="319.50" y2="148.80" stroke="#999" stroke-width="0.3"/>
<line x1="345.90" y1="156.60" x2="390.80" y2="156.60" stroke="#8c8c8c" stroke-width="0.5"/>
<rect x="367.55" y="155.85" width="1.50" height="1.50" fill="#1a1a1a"/>
<text x="318.10" y="157.55" font-size="2.7" text-anchor="end" font-weight="normal" fill="#555" stroke="#555" stroke-width="0.02">rs2556521</text>
<line x1="318.90" y1="156.60" x2="319.50" y2="156.60" stroke="#999" stroke-width="0.3"/>
<line x1="341.70" y1="164.30" x2="385.90" y2="164.30" stroke="#8c8c8c" stroke-width="0.5"/>
<rect x="362.95" y="163.55" width="1.50" height="1.50" fill="#1a1a1a"/>
<text x="318.10" y="165.25" font-size="2.7" text-anchor="end" font-weight="normal" fill="#555" stroke="#555" stroke-width="0.02">rs2565619</text>
<line x1="318.90" y1="164.30" x2="319.50" y2="164.30" stroke="#999" stroke-width="0.3"/>
<line x1="344.10" y1="172.30" x2="379.20" y2="172.30" stroke="#8c8c8c" stroke-width="0.5"/>
<rect x="360.75" y="171.55" width="1.50" height="1.50" fill="#1a1a1a"/>
<text x="318.10" y="173.25" font-size="2.7" text-anchor="end" font-weight="normal" fill="#555" stroke="#555" stroke-width="0.02">rs4797774</text>
<line x1="318.90" y1="172.30" x2="319.50" y2="172.30" stroke="#999" stroke-width="0.3"/>
<line x1="330.10" y1="180.00" x2="380.80" y2="180.00" stroke="#8c8c8c" stroke-width="0.5"/>
<rect x="354.65" y="179.25" width="1.50" height="1.50" fill="#1a1a1a"/>
<text x="318.10" y="180.95" font-size="2.7" text-anchor="end" font-weight="normal" fill="#555" stroke="#555" stroke-width="0.02">rs72647366</text>
<line x1="318.90" y1="180.00" x2="319.50" y2="180.00" stroke="#999" stroke-width="0.3"/>
<line x1="333.70" y1="187.80" x2="367.70" y2="187.80" stroke="#8c8c8c" stroke-width="0.5"/>
<rect x="350.05" y="187.05" width="1.50" height="1.50" fill="#1a1a1a"/>
<text x="318.10" y="188.75" font-size="2.7" text-anchor="end" font-weight="normal" fill="#555" stroke="#555" stroke-width="0.02">rs12651545</text>
<line x1="318.90" y1="187.80" x2="319.50" y2="187.80" stroke="#999" stroke-width="0.3"/>
<line x1="324.10" y1="195.80" x2="369.50" y2="195.80" stroke="#8c8c8c" stroke-width="0.5"/>
<rect x="346.05" y="195.05" width="1.50" height="1.50" fill="#1a1a1a"/>
<text x="318.10" y="196.75" font-size="2.7" text-anchor="end" font-weight="normal" fill="#555" stroke="#555" stroke-width="0.02">rs1758066</text>
<line x1="318.90" y1="195.80" x2="319.50" y2="195.80" stroke="#999" stroke-width="0.3"/>
<line x1="335.00" y1="211.50" x2="378.10" y2="211.50" stroke="#ff4848" stroke-width="1.25"/>
<rect x="355.60" y="210.60" width="1.80" height="1.80" fill="#f01830"/>
<text x="318.10" y="212.45" font-size="2.7" text-anchor="end" font-weight="normal" fill="#444" stroke="#444" stroke-width="0.03">All - MR Egger</text>
<line x1="356.50" y1="219.10" x2="370.50" y2="219.10" stroke="#ff4848" stroke-width="1.25"/>
<rect x="362.50" y="218.20" width="1.80" height="1.80" fill="#f01830"/>
<text x="318.10" y="220.05" font-size="2.7" text-anchor="end" font-weight="normal" fill="#444" stroke="#444" stroke-width="0.03">All - Inverse variance weighted</text>
<line x1="334.30" y1="224.00" x2="334.30" y2="224.70" stroke="#777" stroke-width="0.4"/>
<text x="334.30" y="227.80" font-size="2.4" text-anchor="middle" font-weight="normal" fill="#222" stroke="#222" stroke-width="0.1">-0.4</text>
<line x1="352.90" y1="224.00" x2="352.90" y2="224.70" stroke="#777" stroke-width="0.4"/>
<text x="352.90" y="227.80" font-size="2.4" text-anchor="middle" font-weight="normal" fill="#222" stroke="#222" stroke-width="0.1">-0.2</text>
<line x1="371.50" y1="224.00" x2="371.50" y2="224.70" stroke="#777" stroke-width="0.4"/>
<text x="371.50" y="227.80" font-size="2.4" text-anchor="middle" font-weight="normal" fill="#222" stroke="#222" stroke-width="0.1">0.0</text>
<line x1="390.10" y1="224.00" x2="390.10" y2="224.70" stroke="#777" stroke-width="0.4"/>
<text x="390.10" y="227.80" font-size="2.4" text-anchor="middle" font-weight="normal" fill="#222" stroke="#222" stroke-width="0.1">0.2</text>
<line x1="408.70" y1="224.00" x2="408.70" y2="224.70" stroke="#777" stroke-width="0.4"/>
<text x="408.70" y="227.80" font-size="2.4" text-anchor="middle" font-weight="normal" fill="#222" stroke="#222" stroke-width="0.1">0.4</text>
<text x="364.50" y="230.20" font-size="2.2" text-anchor="middle" font-weight="normal" fill="#111" stroke="#111" stroke-width="0.08">MR effect size for</text>
<text x="364.50" y="232.90" font-size="2.2" text-anchor="middle" font-weight="normal" fill="#111" stroke="#111" stroke-width="0.08">Desulfovibrio on Ischemic heart disease</text>
<text x="422.80" y="128.00" font-size="8.2" text-anchor="start" font-weight="bold" fill="#222" style="text-rendering:optimizeLegibility">E</text>
<rect x="455.50" y="120.20" width="89.00" height="103.80" fill="#ffffff" stroke="#cdcdcd" stroke-width="0.8"/>
<line x1="508.20" y1="120.60" x2="508.20" y2="223.60" stroke="#f29a9a" stroke-width="0.6" stroke-dasharray="0.6,0.6"/>
<line x1="455.50" y1="209.30" x2="544.50" y2="209.30" stroke="#c8c8c8" stroke-width="0.6"/>
<line x1="501.50" y1="123.70" x2="540.50" y2="123.70" stroke="#8c8c8c" stroke-width="0.5"/>
<rect x="520.15" y="122.95" width="1.50" height="1.50" fill="#1a1a1a"/>
<text x="454.10" y="124.65" font-size="2.7" text-anchor="end" font-weight="normal" fill="#555" stroke="#555" stroke-width="0.02">rs4811610</text>
<line x1="454.90" y1="123.70" x2="455.50" y2="123.70" stroke="#999" stroke-width="0.3"/>
<line x1="501.50" y1="129.50" x2="539.10" y2="129.50" stroke="#8c8c8c" stroke-width="0.5"/>
<rect x="519.45" y="128.75" width="1.50" height="1.50" fill="#1a1a1a"/>
<text x="454.10" y="130.45" font-size="2.7" text-anchor="end" font-weight="normal" fill="#555" stroke="#555" stroke-width="0.02">rs7676208</text>
<line x1="454.90" y1="129.50" x2="455.50" y2="129.50" stroke="#999" stroke-width="0.3"/>
<line x1="494.00" y1="135.40" x2="530.00" y2="135.40" stroke="#8c8c8c" stroke-width="0.5"/>
<rect x="511.45" y="134.65" width="1.50" height="1.50" fill="#1a1a1a"/>
<text x="454.10" y="136.35" font-size="2.7" text-anchor="end" font-weight="normal" fill="#555" stroke="#555" stroke-width="0.02">rs12646236</text>
<line x1="454.90" y1="135.40" x2="455.50" y2="135.40" stroke="#999" stroke-width="0.3"/>
<line x1="499.10" y1="141.00" x2="521.50" y2="141.00" stroke="#8c8c8c" stroke-width="0.5"/>
<rect x="509.45" y="140.25" width="1.50" height="1.50" fill="#1a1a1a"/>
<text x="454.10" y="141.95" font-size="2.7" text-anchor="end" font-weight="normal" fill="#555" stroke="#555" stroke-width="0.02">rs111658660</text>
<line x1="454.90" y1="141.00" x2="455.50" y2="141.00" stroke="#999" stroke-width="0.3"/>
<line x1="492.70" y1="146.80" x2="523.60" y2="146.80" stroke="#8c8c8c" stroke-width="0.5"/>
<rect x="507.05" y="146.05" width="1.50" height="1.50" fill="#1a1a1a"/>
<text x="454.10" y="147.75" font-size="2.7" text-anchor="end" font-weight="normal" fill="#555" stroke="#555" stroke-width="0.02">rs73610775</text>
<line x1="454.90" y1="146.80" x2="455.50" y2="146.80" stroke="#999" stroke-width="0.3"/>
<line x1="488.20" y1="152.50" x2="527.10" y2="152.50" stroke="#8c8c8c" stroke-width="0.5"/>
<rect x="506.75" y="151.75" width="1.50" height="1.50" fill="#1a1a1a"/>
<text x="454.10" y="153.45" font-size="2.7" text-anchor="end" font-weight="normal" fill="#555" stroke="#555" stroke-width="0.02">rs4968451</text>
<line x1="454.90" y1="152.50" x2="455.50" y2="152.50" stroke="#999" stroke-width="0.3"/>
<line x1="488.20" y1="158.10" x2="524.00" y2="158.10" stroke="#8c8c8c" stroke-width="0.5"/>
<rect x="505.45" y="157.35" width="1.50" height="1.50" fill="#1a1a1a"/>
<text x="454.10" y="159.05" font-size="2.7" text-anchor="end" font-weight="normal" fill="#555" stroke="#555" stroke-width="0.02">rs9665516</text>
<line x1="454.90" y1="158.10" x2="455.50" y2="158.10" stroke="#999" stroke-width="0.3"/>
<line x1="485.80" y1="163.70" x2="517.30" y2="163.70" stroke="#8c8c8c" stroke-width="0.5"/>
<rect x="500.75" y="162.95" width="1.50" height="1.50" fill="#1a1a1a"/>
<text x="454.10" y="164.65" font-size="2.7" text-anchor="end" font-weight="normal" fill="#555" stroke="#555" stroke-width="0.02">rs706794</text>
<line x1="454.90" y1="163.70" x2="455.50" y2="163.70" stroke="#999" stroke-width="0.3"/>
<line x1="484.50" y1="169.40" x2="515.80" y2="169.40" stroke="#8c8c8c" stroke-width="0.5"/>
<rect x="499.45" y="168.65" width="1.50" height="1.50" fill="#1a1a1a"/>
<text x="454.10" y="170.35" font-size="2.7" text-anchor="end" font-weight="normal" fill="#555" stroke="#555" stroke-width="0.02">rs11684088</text>
<line x1="454.90" y1="169.40" x2="455.50" y2="169.40" stroke="#999" stroke-width="0.3"/>
<line x1="475.60" y1="175.20" x2="512.70" y2="175.20" stroke="#8c8c8c" stroke-width="0.5"/>
<rect x="492.85" y="174.45" width="1.50" height="1.50" fill="#1a1a1a"/>
<text x="454.10" y="176.15" font-size="2.7" text-anchor="end" font-weight="normal" fill="#555" stroke="#555" stroke-width="0.02">rs7237249</text>
<line x1="454.90" y1="175.20" x2="455.50" y2="175.20" stroke="#999" stroke-width="0.3"/>
<line x1="481.30" y1="180.90" x2="505.80" y2="180.90" stroke="#8c8c8c" stroke-width="0.5"/>
<rect x="492.55" y="180.15" width="1.50" height="1.50" fill="#1a1a1a"/>
<text x="454.10" y="181.85" font-size="2.7" text-anchor="end" font-weight="normal" fill="#555" stroke="#555" stroke-width="0.02">rs17071692</text>
<line x1="454.90" y1="180.90" x2="455.50" y2="180.90" stroke="#999" stroke-width="0.3"/>
<line x1="472.20" y1="186.50" x2="512.40" y2="186.50" stroke="#8c8c8c" stroke-width="0.5"/>
<rect x="491.45" y="185.75" width="1.50" height="1.50" fill="#1a1a1a"/>
<text x="454.10" y="187.45" font-size="2.7" text-anchor="end" font-weight="normal" fill="#555" stroke="#555" stroke-width="0.02">rs2068202</text>
<line x1="454.90" y1="186.50" x2="455.50" y2="186.50" stroke="#999" stroke-width="0.3"/>
<line x1="472.20" y1="192.20" x2="509.10" y2="192.20" stroke="#8c8c8c" stroke-width="0.5"/>
<rect x="490.35" y="191.45" width="1.50" height="1.50" fill="#1a1a1a"/>
<text x="454.10" y="193.15" font-size="2.7" text-anchor="end" font-weight="normal" fill="#555" stroke="#555" stroke-width="0.02">rs4435152</text>
<line x1="454.90" y1="192.20" x2="455.50" y2="192.20" stroke="#999" stroke-width="0.3"/>
<line x1="473.30" y1="198.00" x2="508.50" y2="198.00" stroke="#8c8c8c" stroke-width="0.5"/>
<rect x="490.15" y="197.25" width="1.50" height="1.50" fill="#1a1a1a"/>
<text x="454.10" y="198.95" font-size="2.7" text-anchor="end" font-weight="normal" fill="#555" stroke="#555" stroke-width="0.02">rs1304012</text>
<line x1="454.90" y1="198.00" x2="455.50" y2="198.00" stroke="#999" stroke-width="0.3"/>
<line x1="459.10" y1="203.60" x2="508.50" y2="203.60" stroke="#8c8c8c" stroke-width="0.5"/>
<rect x="482.85" y="202.85" width="1.50" height="1.50" fill="#1a1a1a"/>
<text x="454.10" y="204.55" font-size="2.7" text-anchor="end" font-weight="normal" fill="#555" stroke="#555" stroke-width="0.02">rs2124586</text>
<line x1="454.90" y1="203.60" x2="455.50" y2="203.60" stroke="#999" stroke-width="0.3"/>
<line x1="487.30" y1="214.70" x2="518.20" y2="214.70" stroke="#ff4848" stroke-width="1.25"/>
<rect x="501.80" y="213.80" width="1.80" height="1.80" fill="#f01830"/>
<text x="454.10" y="215.65" font-size="2.7" text-anchor="end" font-weight="normal" fill="#444" stroke="#444" stroke-width="0.03">All - MR Egger</text>
<line x1="497.60" y1="220.20" x2="507.80" y2="220.20" stroke="#ff4848" stroke-width="1.25"/>
<rect x="501.50" y="219.30" width="1.80" height="1.80" fill="#f01830"/>
<text x="454.10" y="221.15" font-size="2.7" text-anchor="end" font-weight="normal" fill="#444" stroke="#444" stroke-width="0.03">All - Inverse variance weighted</text>
<line x1="470.20" y1="224.00" x2="470.20" y2="224.70" stroke="#777" stroke-width="0.4"/>
<text x="470.20" y="227.80" font-size="2.4" text-anchor="middle" font-weight="normal" fill="#222" stroke="#222" stroke-width="0.1">-0.30</text>
<line x1="489.20" y1="224.00" x2="489.20" y2="224.70" stroke="#777" stroke-width="0.4"/>
<text x="489.20" y="227.80" font-size="2.4" text-anchor="middle" font-weight="normal" fill="#222" stroke="#222" stroke-width="0.1">-0.15</text>
<line x1="508.20" y1="224.00" x2="508.20" y2="224.70" stroke="#777" stroke-width="0.4"/>
<text x="508.20" y="227.80" font-size="2.4" text-anchor="middle" font-weight="normal" fill="#222" stroke="#222" stroke-width="0.1">0.00</text>
<line x1="527.20" y1="224.00" x2="527.20" y2="224.70" stroke="#777" stroke-width="0.4"/>
<text x="527.20" y="227.80" font-size="2.4" text-anchor="middle" font-weight="normal" fill="#222" stroke="#222" stroke-width="0.1">0.15</text>
<text x="500.00" y="230.20" font-size="2.2" text-anchor="middle" font-weight="normal" fill="#111" stroke="#111" stroke-width="0.08">MR effect size for</text>
<text x="500.00" y="232.90" font-size="2.2" text-anchor="middle" font-weight="normal" fill="#111" stroke="#111" stroke-width="0.08">Prevotella9 on Ischemic heart disease</text>
<text x="280.00" y="240.40" font-size="8.2" text-anchor="start" font-weight="bold" fill="#222" style="text-rendering:optimizeLegibility">F</text>
<rect x="319.50" y="236.50" width="90.00" height="103.70" fill="#ffffff" stroke="#cdcdcd" stroke-width="0.8"/>
<line x1="362.00" y1="236.90" x2="362.00" y2="339.80" stroke="#f29a9a" stroke-width="0.6" stroke-dasharray="0.6,0.6"/>
<line x1="319.50" y1="317.40" x2="409.50" y2="317.40" stroke="#c8c8c8" stroke-width="0.6"/>
<line x1="355.90" y1="241.30" x2="405.40" y2="241.30" stroke="#8c8c8c" stroke-width="0.5"/>
<rect x="379.75" y="240.55" width="1.50" height="1.50" fill="#1a1a1a"/>
<text x="318.10" y="242.25" font-size="2.7" text-anchor="end" font-weight="normal" fill="#555" stroke="#555" stroke-width="0.02">rs2579621</text>
<line x1="318.90" y1="241.30" x2="319.50" y2="241.30" stroke="#999" stroke-width="0.3"/>
<line x1="361.00" y1="249.60" x2="399.50" y2="249.60" stroke="#8c8c8c" stroke-width="0.5"/>
<rect x="379.35" y="248.85" width="1.50" height="1.50" fill="#1a1a1a"/>
<text x="318.10" y="250.55" font-size="2.7" text-anchor="end" font-weight="normal" fill="#555" stroke="#555" stroke-width="0.02">rs118745088</text>
<line x1="318.90" y1="249.60" x2="319.50" y2="249.60" stroke="#999" stroke-width="0.3"/>
<line x1="354.10" y1="258.20" x2="397.20" y2="258.20" stroke="#8c8c8c" stroke-width="0.5"/>
<rect x="375.15" y="257.45" width="1.50" height="1.50" fill="#1a1a1a"/>
<text x="318.10" y="259.15" font-size="2.7" text-anchor="end" font-weight="normal" fill="#555" stroke="#555" stroke-width="0.02">rs2604677</text>
<line x1="318.90" y1="258.20" x2="319.50" y2="258.20" stroke="#999" stroke-width="0.3"/>
<line x1="353.70" y1="266.70" x2="397.70" y2="266.70" stroke="#8c8c8c" stroke-width="0.5"/>
<rect x="374.75" y="265.95" width="1.50" height="1.50" fill="#1a1a1a"/>
<text x="318.10" y="267.65" font-size="2.7" text-anchor="end" font-weight="normal" fill="#555" stroke="#555" stroke-width="0.02">rs7199968</text>
<line x1="318.90" y1="266.70" x2="319.50" y2="266.70" stroke="#999" stroke-width="0.3"/>
<line x1="347.40" y1="275.10" x2="393.20" y2="275.10" stroke="#8c8c8c" stroke-width="0.5"/>
<rect x="369.35" y="274.35" width="1.50" height="1.50" fill="#1a1a1a"/>
<text x="318.10" y="276.05" font-size="2.7" text-anchor="end" font-weight="normal" fill="#555" stroke="#555" stroke-width="0.02">rs2602028</text>
<line x1="318.90" y1="275.10" x2="319.50" y2="275.10" stroke="#999" stroke-width="0.3"/>
<line x1="353.70" y1="283.80" x2="383.70" y2="283.80" stroke="#8c8c8c" stroke-width="0.5"/>
<rect x="367.85" y="283.05" width="1.50" height="1.50" fill="#1a1a1a"/>
<text x="318.10" y="284.75" font-size="2.7" text-anchor="end" font-weight="normal" fill="#555" stroke="#555" stroke-width="0.02">rs4865166</text>
<line x1="318.90" y1="283.80" x2="319.50" y2="283.80" stroke="#999" stroke-width="0.3"/>
<line x1="349.50" y1="292.20" x2="386.60" y2="292.20" stroke="#8c8c8c" stroke-width="0.5"/>
<rect x="367.55" y="291.45" width="1.50" height="1.50" fill="#1a1a1a"/>
<text x="318.10" y="293.15" font-size="2.7" text-anchor="end" font-weight="normal" fill="#555" stroke="#555" stroke-width="0.02">rs11554686</text>
<line x1="318.90" y1="292.20" x2="319.50" y2="292.20" stroke="#999" stroke-width="0.3"/>
<line x1="333.50" y1="300.60" x2="381.90" y2="300.60" stroke="#8c8c8c" stroke-width="0.5"/>
<rect x="356.95" y="299.85" width="1.50" height="1.50" fill="#1a1a1a"/>
<text x="318.10" y="301.55" font-size="2.7" text-anchor="end" font-weight="normal" fill="#555" stroke="#555" stroke-width="0.02">rs1486629</text>
<line x1="318.90" y1="300.60" x2="319.50" y2="300.60" stroke="#999" stroke-width="0.3"/>
<line x1="324.10" y1="309.00" x2="376.50" y2="309.00" stroke="#8c8c8c" stroke-width="0.5"/>
<rect x="349.75" y="308.25" width="1.50" height="1.50" fill="#1a1a1a"/>
<text x="318.10" y="309.95" font-size="2.7" text-anchor="end" font-weight="normal" fill="#555" stroke="#555" stroke-width="0.02">rs2734636</text>
<line x1="318.90" y1="309.00" x2="319.50" y2="309.00" stroke="#999" stroke-width="0.3"/>
<line x1="341.40" y1="326.40" x2="397.70" y2="326.40" stroke="#ff4848" stroke-width="1.25"/>
<rect x="368.30" y="325.50" width="1.80" height="1.80" fill="#f01830"/>
<text x="318.10" y="327.35" font-size="2.7" text-anchor="end" font-weight="normal" fill="#444" stroke="#444" stroke-width="0.03">All - MR Egger</text>
<line x1="363.70" y1="334.80" x2="377.20" y2="334.80" stroke="#ff4848" stroke-width="1.25"/>
<rect x="369.60" y="333.90" width="1.80" height="1.80" fill="#f01830"/>
<text x="318.10" y="335.75" font-size="2.7" text-anchor="end" font-weight="normal" fill="#444" stroke="#444" stroke-width="0.03">All - Inverse variance weighted</text>
<line x1="338.70" y1="340.20" x2="338.70" y2="340.90" stroke="#777" stroke-width="0.4"/>
<text x="338.70" y="344.00" font-size="2.4" text-anchor="middle" font-weight="normal" fill="#222" stroke="#222" stroke-width="0.1">-0.25</text>
<line x1="362.00" y1="340.20" x2="362.00" y2="340.90" stroke="#777" stroke-width="0.4"/>
<text x="362.00" y="344.00" font-size="2.4" text-anchor="middle" font-weight="normal" fill="#222" stroke="#222" stroke-width="0.1">0.00</text>
<line x1="385.40" y1="340.20" x2="385.40" y2="340.90" stroke="#777" stroke-width="0.4"/>
<text x="385.40" y="344.00" font-size="2.4" text-anchor="middle" font-weight="normal" fill="#222" stroke="#222" stroke-width="0.1">0.25</text>
<line x1="408.80" y1="340.20" x2="408.80" y2="340.90" stroke="#777" stroke-width="0.4"/>
<text x="408.80" y="344.00" font-size="2.4" text-anchor="middle" font-weight="normal" fill="#222" stroke="#222" stroke-width="0.1">0.50</text>
<text x="364.50" y="346.40" font-size="2.2" text-anchor="middle" font-weight="normal" fill="#111" stroke="#111" stroke-width="0.08">MR effect size for</text>
<text x="364.50" y="349.10" font-size="2.2" text-anchor="middle" font-weight="normal" fill="#111" stroke="#111" stroke-width="0.08">Turicibacter on Ischemic heart disease</text>
<text x="421.50" y="240.40" font-size="8.2" text-anchor="start" font-weight="bold" fill="#222" style="text-rendering:optimizeLegibility">G</text>
<rect x="455.50" y="236.50" width="89.00" height="103.70" fill="#ffffff" stroke="#cdcdcd" stroke-width="0.8"/>
<line x1="507.50" y1="236.90" x2="507.50" y2="339.80" stroke="#f29a9a" stroke-width="0.6" stroke-dasharray="0.6,0.6"/>
<line x1="455.50" y1="324.30" x2="544.50" y2="324.30" stroke="#c8c8c8" stroke-width="0.6"/>
<line x1="507.50" y1="239.50" x2="540.50" y2="239.50" stroke="#8c8c8c" stroke-width="0.5"/>
<rect x="523.25" y="238.75" width="1.50" height="1.50" fill="#1a1a1a"/>
<text x="454.10" y="240.45" font-size="2.7" text-anchor="end" font-weight="normal" fill="#555" stroke="#555" stroke-width="0.02">rs2279526</text>
<line x1="454.90" y1="239.50" x2="455.50" y2="239.50" stroke="#999" stroke-width="0.3"/>
<line x1="493.30" y1="245.60" x2="523.60" y2="245.60" stroke="#8c8c8c" stroke-width="0.5"/>
<rect x="507.75" y="244.85" width="1.50" height="1.50" fill="#1a1a1a"/>
<text x="454.10" y="246.55" font-size="2.7" text-anchor="end" font-weight="normal" fill="#555" stroke="#555" stroke-width="0.02">rs6815436</text>
<line x1="454.90" y1="245.60" x2="455.50" y2="245.60" stroke="#999" stroke-width="0.3"/>
<line x1="488.20" y1="251.80" x2="520.00" y2="251.80" stroke="#8c8c8c" stroke-width="0.5"/>
<rect x="503.45" y="251.05" width="1.50" height="1.50" fill="#1a1a1a"/>
<text x="454.10" y="252.75" font-size="2.7" text-anchor="end" font-weight="normal" fill="#555" stroke="#555" stroke-width="0.02">rs2862551</text>
<line x1="454.90" y1="251.80" x2="455.50" y2="251.80" stroke="#999" stroke-width="0.3"/>
<line x1="494.40" y1="258.00" x2="511.80" y2="258.00" stroke="#8c8c8c" stroke-width="0.5"/>
<rect x="502.15" y="257.25" width="1.50" height="1.50" fill="#1a1a1a"/>
<text x="454.10" y="258.95" font-size="2.7" text-anchor="end" font-weight="normal" fill="#555" stroke="#555" stroke-width="0.02">rs56105958</text>
<line x1="454.90" y1="258.00" x2="455.50" y2="258.00" stroke="#999" stroke-width="0.3"/>
<line x1="486.90" y1="264.00" x2="518.70" y2="264.00" stroke="#8c8c8c" stroke-width="0.5"/>
<rect x="502.15" y="263.25" width="1.50" height="1.50" fill="#1a1a1a"/>
<text x="454.10" y="264.95" font-size="2.7" text-anchor="end" font-weight="normal" fill="#555" stroke="#555" stroke-width="0.02">rs2547976</text>
<line x1="454.90" y1="264.00" x2="455.50" y2="264.00" stroke="#999" stroke-width="0.3"/>
<line x1="487.80" y1="269.80" x2="517.80" y2="269.80" stroke="#8c8c8c" stroke-width="0.5"/>
<rect x="501.95" y="269.05" width="1.50" height="1.50" fill="#1a1a1a"/>
<text x="454.10" y="270.75" font-size="2.7" text-anchor="end" font-weight="normal" fill="#555" stroke="#555" stroke-width="0.02">rs4792830</text>
<line x1="454.90" y1="269.80" x2="455.50" y2="269.80" stroke="#999" stroke-width="0.3"/>
<line x1="488.50" y1="275.80" x2="514.50" y2="275.80" stroke="#8c8c8c" stroke-width="0.5"/>
<rect x="500.75" y="275.05" width="1.50" height="1.50" fill="#1a1a1a"/>
<text x="454.10" y="276.75" font-size="2.7" text-anchor="end" font-weight="normal" fill="#555" stroke="#555" stroke-width="0.02">rs115054275</text>
<line x1="454.90" y1="275.80" x2="455.50" y2="275.80" stroke="#999" stroke-width="0.3"/>
<line x1="483.30" y1="282.00" x2="519.50" y2="282.00" stroke="#8c8c8c" stroke-width="0.5"/>
<rect x="500.55" y="281.25" width="1.50" height="1.50" fill="#1a1a1a"/>
<text x="454.10" y="282.95" font-size="2.7" text-anchor="end" font-weight="normal" fill="#555" stroke="#555" stroke-width="0.02">rs4795594</text>
<line x1="454.90" y1="282.00" x2="455.50" y2="282.00" stroke="#999" stroke-width="0.3"/>
<line x1="489.10" y1="288.00" x2="508.50" y2="288.00" stroke="#8c8c8c" stroke-width="0.5"/>
<rect x="498.35" y="287.25" width="1.50" height="1.50" fill="#1a1a1a"/>
<text x="454.10" y="288.95" font-size="2.7" text-anchor="end" font-weight="normal" fill="#555" stroke="#555" stroke-width="0.02">rs72771021</text>
<line x1="454.90" y1="288.00" x2="455.50" y2="288.00" stroke="#999" stroke-width="0.3"/>
<line x1="483.30" y1="294.00" x2="514.50" y2="294.00" stroke="#8c8c8c" stroke-width="0.5"/>
<rect x="497.95" y="293.25" width="1.50" height="1.50" fill="#1a1a1a"/>
<text x="454.10" y="294.95" font-size="2.7" text-anchor="end" font-weight="normal" fill="#555" stroke="#555" stroke-width="0.02">rs7238686</text>
<line x1="454.90" y1="294.00" x2="455.50" y2="294.00" stroke="#999" stroke-width="0.3"/>
<line x1="484.20" y1="299.90" x2="512.70" y2="299.90" stroke="#8c8c8c" stroke-width="0.5"/>
<rect x="497.45" y="299.15" width="1.50" height="1.50" fill="#1a1a1a"/>
<text x="454.10" y="300.85" font-size="2.7" text-anchor="end" font-weight="normal" fill="#555" stroke="#555" stroke-width="0.02">rs4390382</text>
<line x1="454.90" y1="299.90" x2="455.50" y2="299.90" stroke="#999" stroke-width="0.3"/>
<line x1="481.50" y1="306.10" x2="512.70" y2="306.10" stroke="#8c8c8c" stroke-width="0.5"/>
<rect x="496.15" y="305.35" width="1.50" height="1.50" fill="#1a1a1a"/>
<text x="454.10" y="307.05" font-size="2.7" text-anchor="end" font-weight="normal" fill="#555" stroke="#555" stroke-width="0.02">rs35589527</text>
<line x1="454.90" y1="306.10" x2="455.50" y2="306.10" stroke="#999" stroke-width="0.3"/>
<line x1="484.50" y1="312.10" x2="505.80" y2="312.10" stroke="#8c8c8c" stroke-width="0.5"/>
<rect x="494.35" y="311.35" width="1.50" height="1.50" fill="#1a1a1a"/>
<text x="454.10" y="313.05" font-size="2.7" text-anchor="end" font-weight="normal" fill="#555" stroke="#555" stroke-width="0.02">rs4816628</text>
<line x1="454.90" y1="312.10" x2="455.50" y2="312.10" stroke="#999" stroke-width="0.3"/>
<line x1="459.50" y1="318.10" x2="492.90" y2="318.10" stroke="#8c8c8c" stroke-width="0.5"/>
<rect x="475.25" y="317.35" width="1.50" height="1.50" fill="#1a1a1a"/>
<text x="454.10" y="319.05" font-size="2.7" text-anchor="end" font-weight="normal" fill="#555" stroke="#555" stroke-width="0.02">rs7247181</text>
<line x1="454.90" y1="318.10" x2="455.50" y2="318.10" stroke="#999" stroke-width="0.3"/>
<line x1="488.20" y1="330.50" x2="511.80" y2="330.50" stroke="#ff4848" stroke-width="1.25"/>
<rect x="499.10" y="329.60" width="1.80" height="1.80" fill="#f01830"/>
<text x="454.10" y="331.45" font-size="2.7" text-anchor="end" font-weight="normal" fill="#444" stroke="#444" stroke-width="0.03">All - MR Egger</text>
<line x1="496.40" y1="336.60" x2="504.50" y2="336.60" stroke="#ff4848" stroke-width="1.25"/>
<rect x="499.50" y="335.70" width="1.80" height="1.80" fill="#f01830"/>
<text x="454.10" y="337.55" font-size="2.7" text-anchor="end" font-weight="normal" fill="#444" stroke="#444" stroke-width="0.03">All - Inverse variance weighted</text>
<line x1="461.10" y1="340.20" x2="461.10" y2="340.90" stroke="#777" stroke-width="0.4"/>
<text x="461.10" y="344.00" font-size="2.4" text-anchor="middle" font-weight="normal" fill="#222" stroke="#222" stroke-width="0.1">-1.0</text>
<line x1="484.30" y1="340.20" x2="484.30" y2="340.90" stroke="#777" stroke-width="0.4"/>
<text x="484.30" y="344.00" font-size="2.4" text-anchor="middle" font-weight="normal" fill="#222" stroke="#222" stroke-width="0.1">-0.5</text>
<line x1="507.50" y1="340.20" x2="507.50" y2="340.90" stroke="#777" stroke-width="0.4"/>
<text x="507.50" y="344.00" font-size="2.4" text-anchor="middle" font-weight="normal" fill="#222" stroke="#222" stroke-width="0.1">0.0</text>
<line x1="530.70" y1="340.20" x2="530.70" y2="340.90" stroke="#777" stroke-width="0.4"/>
<text x="530.70" y="344.00" font-size="2.4" text-anchor="middle" font-weight="normal" fill="#222" stroke="#222" stroke-width="0.1">0.5</text>
<text x="500.00" y="346.40" font-size="2.2" text-anchor="middle" font-weight="normal" fill="#111" stroke="#111" stroke-width="0.08">MR effect size for</text>
<text x="500.00" y="349.10" font-size="2.2" text-anchor="middle" font-weight="normal" fill="#111" stroke="#111" stroke-width="0.08">Firmicutes on Ischemic heart disease</text>
</g>
</svg>
</body></html>
